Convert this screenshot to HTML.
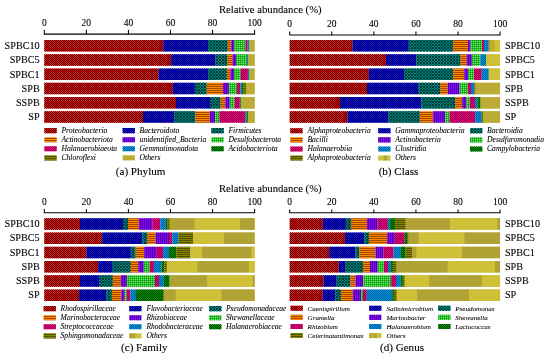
<!DOCTYPE html>
<html lang="en"><head><meta charset="utf-8"><title>Relative abundance</title>
<style>
html,body{margin:0;padding:0;background:#fff;}
body{width:550px;height:358px;overflow:hidden;font-family:"Liberation Serif","Times New Roman",serif;}
svg{display:block;}
svg text{stroke:#000;stroke-width:0.1px;}
svg text[font-style=italic]{stroke-width:0.07px;}
</style></head><body>
<svg width="550" height="358" viewBox="0 0 550 358" font-family="'Liberation Serif', 'Times New Roman', serif">
<rect width="550" height="358" fill="#fff"/>
<g id="panel-a">
<path d="M44.3,34.1 H254.6 M44.30,34.1 v-3.7 M86.36,34.1 v-3.7 M128.42,34.1 v-3.7 M170.48,34.1 v-3.7 M212.54,34.1 v-3.7 M254.60,34.1 v-3.7" stroke="#000" stroke-width="1.05" fill="none" stroke-linecap="square"/>
<text x="44.30" y="26.00" font-size="9.5" text-anchor="middle" fill="#000">0</text>
<text x="86.36" y="26.00" font-size="9.5" text-anchor="middle" fill="#000">20</text>
<text x="128.42" y="26.00" font-size="9.5" text-anchor="middle" fill="#000">40</text>
<text x="170.48" y="26.00" font-size="9.5" text-anchor="middle" fill="#000">60</text>
<text x="212.54" y="26.00" font-size="9.5" text-anchor="middle" fill="#000">80</text>
<text x="254.60" y="26.00" font-size="9.5" text-anchor="middle" fill="#000">100</text>
<text x="39.70" y="49.00" font-size="10.2" text-anchor="end" fill="#000">SPBC10</text>
<text x="39.70" y="63.25" font-size="10.2" text-anchor="end" fill="#000">SPBC5</text>
<text x="39.70" y="77.50" font-size="10.2" text-anchor="end" fill="#000">SPBC1</text>
<text x="39.70" y="91.75" font-size="10.2" text-anchor="end" fill="#000">SPB</text>
<text x="39.70" y="106.00" font-size="10.2" text-anchor="end" fill="#000">SSPB</text>
<text x="39.70" y="120.25" font-size="10.2" text-anchor="end" fill="#000">SP</text>
<text x="61.40" y="132.90" font-size="7.65" font-style="italic" fill="#000">Proteobacteria</text>
<text x="61.40" y="141.98" font-size="7.65" font-style="italic" fill="#000">Actinobacteriota</text>
<text x="61.40" y="151.06" font-size="7.65" font-style="italic" fill="#000">Halanaerobiaeota</text>
<text x="61.40" y="160.14" font-size="7.65" font-style="italic" fill="#000">Chloroflexi</text>
<text x="139.60" y="132.90" font-size="7.65" font-style="italic" fill="#000">Bacteroidota</text>
<text x="139.60" y="141.98" font-size="7.65" font-style="italic" fill="#000">unidentified_Bacteria</text>
<text x="139.60" y="151.06" font-size="7.65" font-style="italic" fill="#000">Gemmatimonadota</text>
<text x="139.60" y="160.14" font-size="7.65" font-style="italic" fill="#000">Others</text>
<text x="228.40" y="132.90" font-size="7.65" font-style="italic" fill="#000">Firmicutes</text>
<text x="228.40" y="141.98" font-size="7.65" font-style="italic" fill="#000">Desulfobacterota</text>
<text x="228.40" y="151.06" font-size="7.65" font-style="italic" fill="#000">Acidobacteriota</text>
<text x="140.6" y="175.0" font-size="11.1" text-anchor="middle" fill="#000">(a) Phylum</text>
</g>
<g id="panel-b">
<path d="M289.7,34.9 H500.1 M289.70,34.9 v-2.9 M331.78,34.9 v-2.9 M373.86,34.9 v-2.9 M415.94,34.9 v-2.9 M458.02,34.9 v-2.9 M500.10,34.9 v-2.9" stroke="#000" stroke-width="1.05" fill="none" stroke-linecap="square"/>
<text x="289.70" y="27.30" font-size="9.5" text-anchor="middle" fill="#000">0</text>
<text x="331.78" y="27.30" font-size="9.5" text-anchor="middle" fill="#000">20</text>
<text x="373.86" y="27.30" font-size="9.5" text-anchor="middle" fill="#000">40</text>
<text x="415.94" y="27.30" font-size="9.5" text-anchor="middle" fill="#000">60</text>
<text x="458.02" y="27.30" font-size="9.5" text-anchor="middle" fill="#000">80</text>
<text x="500.10" y="27.30" font-size="9.5" text-anchor="middle" fill="#000">100</text>
<text x="504.90" y="49.00" font-size="10.2" fill="#000">SPBC10</text>
<text x="504.90" y="63.25" font-size="10.2" fill="#000">SPBC5</text>
<text x="504.90" y="77.50" font-size="10.2" fill="#000">SPBC1</text>
<text x="504.90" y="91.75" font-size="10.2" fill="#000">SPB</text>
<text x="504.90" y="106.00" font-size="10.2" fill="#000">SSPB</text>
<text x="504.90" y="120.25" font-size="10.2" fill="#000">SP</text>
<text x="307.40" y="133.10" font-size="7.65" font-style="italic" fill="#000">Alphaproteobacteria</text>
<text x="307.40" y="142.18" font-size="7.65" font-style="italic" fill="#000">Bacilli</text>
<text x="307.40" y="151.26" font-size="7.65" font-style="italic" fill="#000">Halanaerobiia</text>
<text x="307.40" y="160.34" font-size="7.65" font-style="italic" fill="#000">Alphaproteobacteria</text>
<text x="395.30" y="133.10" font-size="7.65" font-style="italic" fill="#000">Gammaproteobacteria</text>
<text x="395.30" y="142.18" font-size="7.65" font-style="italic" fill="#000">Actinobacteria</text>
<text x="395.30" y="151.26" font-size="7.65" font-style="italic" fill="#000">Clostridia</text>
<text x="395.30" y="160.34" font-size="7.65" font-style="italic" fill="#000">Others</text>
<text x="487.00" y="133.10" font-size="7.65" font-style="italic" fill="#000">Bacteroidia</text>
<text x="487.00" y="142.18" font-size="7.65" font-style="italic" fill="#000">Desulfuromonadia</text>
<text x="487.00" y="151.26" font-size="7.65" font-style="italic" fill="#000">Campylobacteria</text>
<text x="398.5" y="174.6" font-size="11.1" text-anchor="middle" fill="#000">(b) Class</text>
</g>
<g id="panel-c">
<path d="M44.3,212.8 H254.6 M44.30,212.8 v-3.3 M86.36,212.8 v-3.3 M128.42,212.8 v-3.3 M170.48,212.8 v-3.3 M212.54,212.8 v-3.3 M254.60,212.8 v-3.3" stroke="#000" stroke-width="1.05" fill="none" stroke-linecap="square"/>
<text x="44.30" y="204.90" font-size="9.5" text-anchor="middle" fill="#000">0</text>
<text x="86.36" y="204.90" font-size="9.5" text-anchor="middle" fill="#000">20</text>
<text x="128.42" y="204.90" font-size="9.5" text-anchor="middle" fill="#000">40</text>
<text x="170.48" y="204.90" font-size="9.5" text-anchor="middle" fill="#000">60</text>
<text x="212.54" y="204.90" font-size="9.5" text-anchor="middle" fill="#000">80</text>
<text x="254.60" y="204.90" font-size="9.5" text-anchor="middle" fill="#000">100</text>
<text x="39.70" y="227.20" font-size="10.2" text-anchor="end" fill="#000">SPBC10</text>
<text x="39.70" y="241.45" font-size="10.2" text-anchor="end" fill="#000">SPBC5</text>
<text x="39.70" y="255.70" font-size="10.2" text-anchor="end" fill="#000">SPBC1</text>
<text x="39.70" y="269.95" font-size="10.2" text-anchor="end" fill="#000">SPB</text>
<text x="39.70" y="284.20" font-size="10.2" text-anchor="end" fill="#000">SSPB</text>
<text x="39.70" y="298.45" font-size="10.2" text-anchor="end" fill="#000">SP</text>
<text x="60.60" y="310.90" font-size="7.55" font-style="italic" fill="#000">Rhodospirillaceae</text>
<text x="60.60" y="319.98" font-size="7.55" font-style="italic" fill="#000">Marinobacteraceae</text>
<text x="60.60" y="329.06" font-size="7.55" font-style="italic" fill="#000">Streptococcaceae</text>
<text x="60.60" y="338.14" font-size="7.55" font-style="italic" fill="#000">Sphingomonadaceae</text>
<text x="146.40" y="310.90" font-size="7.55" font-style="italic" fill="#000">Flavobacteriaceae</text>
<text x="146.40" y="319.98" font-size="7.55" font-style="italic" fill="#000">Rhizobiaceae</text>
<text x="146.40" y="329.06" font-size="7.55" font-style="italic" fill="#000">Rhodobacteraceae</text>
<text x="146.40" y="338.14" font-size="7.55" font-style="italic" fill="#000">Others</text>
<text x="226.00" y="310.90" font-size="7.55" font-style="italic" fill="#000">Pseudomonadaceae</text>
<text x="226.00" y="319.98" font-size="7.55" font-style="italic" fill="#000">Shewanellaceae</text>
<text x="226.00" y="329.06" font-size="7.55" font-style="italic" fill="#000">Halanaerobiaceae</text>
<text x="144.3" y="351.2" font-size="11.1" text-anchor="middle" fill="#000">(c) Family</text>
</g>
<g id="panel-d">
<path d="M289.7,212.8 H500.1 M289.70,212.8 v-2.9 M331.78,212.8 v-2.9 M373.86,212.8 v-2.9 M415.94,212.8 v-2.9 M458.02,212.8 v-2.9 M500.10,212.8 v-2.9" stroke="#000" stroke-width="1.05" fill="none" stroke-linecap="square"/>
<text x="289.70" y="204.90" font-size="9.5" text-anchor="middle" fill="#000">0</text>
<text x="331.78" y="204.90" font-size="9.5" text-anchor="middle" fill="#000">20</text>
<text x="373.86" y="204.90" font-size="9.5" text-anchor="middle" fill="#000">40</text>
<text x="415.94" y="204.90" font-size="9.5" text-anchor="middle" fill="#000">60</text>
<text x="458.02" y="204.90" font-size="9.5" text-anchor="middle" fill="#000">80</text>
<text x="500.10" y="204.90" font-size="9.5" text-anchor="middle" fill="#000">100</text>
<text x="504.90" y="227.20" font-size="10.2" fill="#000">SPBC10</text>
<text x="504.90" y="241.45" font-size="10.2" fill="#000">SPBC5</text>
<text x="504.90" y="255.70" font-size="10.2" fill="#000">SPBC1</text>
<text x="504.90" y="269.95" font-size="10.2" fill="#000">SPB</text>
<text x="504.90" y="284.20" font-size="10.2" fill="#000">SSPB</text>
<text x="504.90" y="298.45" font-size="10.2" fill="#000">SP</text>
<text x="307.60" y="310.60" font-size="7.05" font-style="italic" fill="#000">Caenispirillum</text>
<text x="307.60" y="319.68" font-size="7.05" font-style="italic" fill="#000">Gramella</text>
<text x="307.60" y="328.76" font-size="7.05" font-style="italic" fill="#000">Rhizobium</text>
<text x="307.60" y="337.84" font-size="7.05" font-style="italic" fill="#000">Celerinatantimonas</text>
<text x="386.40" y="310.60" font-size="7.05" font-style="italic" fill="#000">Salinimicrobium</text>
<text x="386.40" y="319.68" font-size="7.05" font-style="italic" fill="#000">Marinobacter</text>
<text x="386.40" y="328.76" font-size="7.05" font-style="italic" fill="#000">Halanaerobium</text>
<text x="386.40" y="337.84" font-size="7.05" font-style="italic" fill="#000">Others</text>
<text x="455.30" y="310.60" font-size="7.05" font-style="italic" fill="#000">Pseudomonas</text>
<text x="455.30" y="319.68" font-size="7.05" font-style="italic" fill="#000">Shewanella</text>
<text x="455.30" y="328.76" font-size="7.05" font-style="italic" fill="#000">Lactococcus</text>
<text x="402" y="351.4" font-size="11.1" text-anchor="middle" fill="#000">(d) Genus</text>
</g>
<g fill="#bcae38"><rect x="249.10" y="40.05" width="5.50" height="11.45"/><rect x="248.10" y="54.30" width="6.50" height="11.45"/><rect x="249.30" y="68.55" width="5.30" height="11.45"/><rect x="246.00" y="82.80" width="8.60" height="11.45"/><rect x="241.00" y="97.05" width="13.60" height="11.45"/><rect x="247.90" y="111.30" width="6.70" height="11.45"/><rect x="489.60" y="40.05" width="10.50" height="11.45"/><rect x="486.10" y="54.30" width="14.00" height="11.45"/><rect x="488.80" y="68.55" width="11.30" height="11.45"/><rect x="475.60" y="82.80" width="24.50" height="11.45"/><rect x="480.50" y="97.05" width="19.60" height="11.45"/><rect x="483.20" y="111.30" width="16.90" height="11.45"/><rect x="169.80" y="218.25" width="84.80" height="11.45"/><rect x="193.20" y="232.50" width="61.40" height="11.45"/><rect x="190.20" y="246.75" width="64.40" height="11.45"/><rect x="166.90" y="261.00" width="87.70" height="11.45"/><rect x="169.50" y="275.25" width="85.10" height="11.45"/><rect x="164.20" y="289.50" width="90.40" height="11.45"/><rect x="405.80" y="218.25" width="94.30" height="11.45"/><rect x="408.60" y="232.50" width="91.50" height="11.45"/><rect x="412.00" y="246.75" width="88.10" height="11.45"/><rect x="396.60" y="261.00" width="103.50" height="11.45"/><rect x="404.80" y="275.25" width="95.30" height="11.45"/><rect x="396.80" y="289.50" width="103.30" height="11.45"/></g>
<clipPath id="c-red"><rect x="44.30" y="40.05" width="119.00" height="11.45"/><rect x="44.30" y="54.30" width="126.90" height="11.45"/><rect x="44.30" y="68.55" width="114.30" height="11.45"/><rect x="44.30" y="82.80" width="128.50" height="11.45"/><rect x="44.30" y="97.05" width="131.70" height="11.45"/><rect x="44.30" y="111.30" width="98.70" height="11.45"/><rect x="44.40" y="128.05" width="12.30" height="5.10"/><rect x="289.70" y="40.05" width="63.00" height="11.45"/><rect x="289.70" y="54.30" width="96.20" height="11.45"/><rect x="289.70" y="68.55" width="79.10" height="11.45"/><rect x="289.70" y="82.80" width="77.30" height="11.45"/><rect x="289.70" y="97.05" width="50.30" height="11.45"/><rect x="289.70" y="111.30" width="57.70" height="11.45"/><rect x="290.30" y="128.25" width="12.30" height="5.10"/><rect x="44.30" y="218.25" width="35.70" height="11.45"/><rect x="44.30" y="232.50" width="57.90" height="11.45"/><rect x="44.30" y="246.75" width="42.20" height="11.45"/><rect x="44.30" y="261.00" width="53.90" height="11.45"/><rect x="44.30" y="275.25" width="35.70" height="11.45"/><rect x="44.30" y="289.50" width="34.80" height="11.45"/><rect x="43.60" y="306.05" width="12.30" height="5.10"/><rect x="289.70" y="218.25" width="33.10" height="11.45"/><rect x="289.70" y="232.50" width="55.20" height="11.45"/><rect x="289.70" y="246.75" width="39.50" height="11.45"/><rect x="289.70" y="261.00" width="49.00" height="11.45"/><rect x="289.70" y="275.25" width="33.90" height="11.45"/><rect x="289.70" y="289.50" width="32.90" height="11.45"/><rect x="290.50" y="305.75" width="12.30" height="5.10"/></clipPath>
<g clip-path="url(#c-red)"><rect x="40" y="36" width="464" height="306" fill="#ff0a0a"/><g stroke="#100000" stroke-width="0.84" fill="none"><path d="M41.00,36L-265.00,342M43.00,36L-263.00,342M45.00,36L-261.00,342M47.00,36L-259.00,342M49.00,36L-257.00,342M51.00,36L-255.00,342M53.00,36L-253.00,342M55.00,36L-251.00,342M57.00,36L-249.00,342M59.00,36L-247.00,342M61.00,36L-245.00,342M63.00,36L-243.00,342M65.00,36L-241.00,342M67.00,36L-239.00,342M69.00,36L-237.00,342M71.00,36L-235.00,342M73.00,36L-233.00,342M75.00,36L-231.00,342M77.00,36L-229.00,342M79.00,36L-227.00,342M81.00,36L-225.00,342M83.00,36L-223.00,342M85.00,36L-221.00,342M87.00,36L-219.00,342M89.00,36L-217.00,342M91.00,36L-215.00,342M93.00,36L-213.00,342M95.00,36L-211.00,342M97.00,36L-209.00,342M99.00,36L-207.00,342M101.00,36L-205.00,342M103.00,36L-203.00,342M105.00,36L-201.00,342M107.00,36L-199.00,342M109.00,36L-197.00,342M111.00,36L-195.00,342M113.00,36L-193.00,342M115.00,36L-191.00,342M117.00,36L-189.00,342M119.00,36L-187.00,342M121.00,36L-185.00,342M123.00,36L-183.00,342M125.00,36L-181.00,342M127.00,36L-179.00,342M129.00,36L-177.00,342M131.00,36L-175.00,342M133.00,36L-173.00,342M135.00,36L-171.00,342M137.00,36L-169.00,342M139.00,36L-167.00,342M141.00,36L-165.00,342M143.00,36L-163.00,342M145.00,36L-161.00,342M147.00,36L-159.00,342M149.00,36L-157.00,342M151.00,36L-155.00,342M153.00,36L-153.00,342M155.00,36L-151.00,342M157.00,36L-149.00,342M159.00,36L-147.00,342M161.00,36L-145.00,342M163.00,36L-143.00,342M165.00,36L-141.00,342M167.00,36L-139.00,342M169.00,36L-137.00,342M171.00,36L-135.00,342M173.00,36L-133.00,342M175.00,36L-131.00,342M177.00,36L-129.00,342M179.00,36L-127.00,342M181.00,36L-125.00,342M183.00,36L-123.00,342M185.00,36L-121.00,342M187.00,36L-119.00,342M189.00,36L-117.00,342M191.00,36L-115.00,342M193.00,36L-113.00,342M195.00,36L-111.00,342M197.00,36L-109.00,342M199.00,36L-107.00,342M201.00,36L-105.00,342M203.00,36L-103.00,342M205.00,36L-101.00,342M207.00,36L-99.00,342M209.00,36L-97.00,342M211.00,36L-95.00,342M213.00,36L-93.00,342M215.00,36L-91.00,342M217.00,36L-89.00,342M219.00,36L-87.00,342M221.00,36L-85.00,342M223.00,36L-83.00,342M225.00,36L-81.00,342M227.00,36L-79.00,342M229.00,36L-77.00,342M231.00,36L-75.00,342M233.00,36L-73.00,342M235.00,36L-71.00,342M237.00,36L-69.00,342M239.00,36L-67.00,342M241.00,36L-65.00,342M243.00,36L-63.00,342M245.00,36L-61.00,342M247.00,36L-59.00,342M249.00,36L-57.00,342M251.00,36L-55.00,342M253.00,36L-53.00,342M255.00,36L-51.00,342M257.00,36L-49.00,342M259.00,36L-47.00,342M261.00,36L-45.00,342M263.00,36L-43.00,342M265.00,36L-41.00,342M267.00,36L-39.00,342M269.00,36L-37.00,342M271.00,36L-35.00,342M273.00,36L-33.00,342M275.00,36L-31.00,342M277.00,36L-29.00,342M279.00,36L-27.00,342M281.00,36L-25.00,342M283.00,36L-23.00,342M285.00,36L-21.00,342M287.00,36L-19.00,342M289.00,36L-17.00,342M291.00,36L-15.00,342M293.00,36L-13.00,342M295.00,36L-11.00,342M297.00,36L-9.00,342M299.00,36L-7.00,342M301.00,36L-5.00,342M303.00,36L-3.00,342M305.00,36L-1.00,342M307.00,36L1.00,342M309.00,36L3.00,342M311.00,36L5.00,342M313.00,36L7.00,342M315.00,36L9.00,342M317.00,36L11.00,342M319.00,36L13.00,342M321.00,36L15.00,342M323.00,36L17.00,342M325.00,36L19.00,342M327.00,36L21.00,342M329.00,36L23.00,342M331.00,36L25.00,342M333.00,36L27.00,342M335.00,36L29.00,342M337.00,36L31.00,342M339.00,36L33.00,342M341.00,36L35.00,342M343.00,36L37.00,342M345.00,36L39.00,342M347.00,36L41.00,342M349.00,36L43.00,342M351.00,36L45.00,342M353.00,36L47.00,342M355.00,36L49.00,342M357.00,36L51.00,342M359.00,36L53.00,342M361.00,36L55.00,342M363.00,36L57.00,342M365.00,36L59.00,342M367.00,36L61.00,342M369.00,36L63.00,342M371.00,36L65.00,342M373.00,36L67.00,342M375.00,36L69.00,342M377.00,36L71.00,342M379.00,36L73.00,342M381.00,36L75.00,342M383.00,36L77.00,342M385.00,36L79.00,342M387.00,36L81.00,342M389.00,36L83.00,342M391.00,36L85.00,342M393.00,36L87.00,342M395.00,36L89.00,342M397.00,36L91.00,342M399.00,36L93.00,342M401.00,36L95.00,342M403.00,36L97.00,342M405.00,36L99.00,342M407.00,36L101.00,342M409.00,36L103.00,342M411.00,36L105.00,342M413.00,36L107.00,342M415.00,36L109.00,342M417.00,36L111.00,342M419.00,36L113.00,342M421.00,36L115.00,342M423.00,36L117.00,342M425.00,36L119.00,342M427.00,36L121.00,342M429.00,36L123.00,342M431.00,36L125.00,342M433.00,36L127.00,342M435.00,36L129.00,342M437.00,36L131.00,342M439.00,36L133.00,342M441.00,36L135.00,342M443.00,36L137.00,342M445.00,36L139.00,342M447.00,36L141.00,342M449.00,36L143.00,342M451.00,36L145.00,342M453.00,36L147.00,342M455.00,36L149.00,342M457.00,36L151.00,342M459.00,36L153.00,342M461.00,36L155.00,342M463.00,36L157.00,342M465.00,36L159.00,342M467.00,36L161.00,342M469.00,36L163.00,342M471.00,36L165.00,342M473.00,36L167.00,342M475.00,36L169.00,342M477.00,36L171.00,342M479.00,36L173.00,342M481.00,36L175.00,342M483.00,36L177.00,342M485.00,36L179.00,342M487.00,36L181.00,342M489.00,36L183.00,342M491.00,36L185.00,342M493.00,36L187.00,342M495.00,36L189.00,342M497.00,36L191.00,342M499.00,36L193.00,342M501.00,36L195.00,342M503.00,36L197.00,342M505.00,36L199.00,342M507.00,36L201.00,342M509.00,36L203.00,342M511.00,36L205.00,342M513.00,36L207.00,342M515.00,36L209.00,342M517.00,36L211.00,342M519.00,36L213.00,342M521.00,36L215.00,342M523.00,36L217.00,342M525.00,36L219.00,342M527.00,36L221.00,342M529.00,36L223.00,342M531.00,36L225.00,342M533.00,36L227.00,342M535.00,36L229.00,342M537.00,36L231.00,342M539.00,36L233.00,342M541.00,36L235.00,342M543.00,36L237.00,342M545.00,36L239.00,342M547.00,36L241.00,342M549.00,36L243.00,342M551.00,36L245.00,342M553.00,36L247.00,342M555.00,36L249.00,342M557.00,36L251.00,342M559.00,36L253.00,342M561.00,36L255.00,342M563.00,36L257.00,342M565.00,36L259.00,342M567.00,36L261.00,342M569.00,36L263.00,342M571.00,36L265.00,342M573.00,36L267.00,342M575.00,36L269.00,342M577.00,36L271.00,342M579.00,36L273.00,342M581.00,36L275.00,342M583.00,36L277.00,342M585.00,36L279.00,342M587.00,36L281.00,342M589.00,36L283.00,342M591.00,36L285.00,342M593.00,36L287.00,342M595.00,36L289.00,342M597.00,36L291.00,342M599.00,36L293.00,342M601.00,36L295.00,342M603.00,36L297.00,342M605.00,36L299.00,342M607.00,36L301.00,342M609.00,36L303.00,342M611.00,36L305.00,342M613.00,36L307.00,342M615.00,36L309.00,342M617.00,36L311.00,342M619.00,36L313.00,342M621.00,36L315.00,342M623.00,36L317.00,342M625.00,36L319.00,342M627.00,36L321.00,342M629.00,36L323.00,342M631.00,36L325.00,342M633.00,36L327.00,342M635.00,36L329.00,342M637.00,36L331.00,342M639.00,36L333.00,342M641.00,36L335.00,342M643.00,36L337.00,342M645.00,36L339.00,342M647.00,36L341.00,342M649.00,36L343.00,342M651.00,36L345.00,342M653.00,36L347.00,342M655.00,36L349.00,342M657.00,36L351.00,342M659.00,36L353.00,342M661.00,36L355.00,342M663.00,36L357.00,342M665.00,36L359.00,342M667.00,36L361.00,342M669.00,36L363.00,342M671.00,36L365.00,342M673.00,36L367.00,342M675.00,36L369.00,342M677.00,36L371.00,342M679.00,36L373.00,342M681.00,36L375.00,342M683.00,36L377.00,342M685.00,36L379.00,342M687.00,36L381.00,342M689.00,36L383.00,342M691.00,36L385.00,342M693.00,36L387.00,342M695.00,36L389.00,342M697.00,36L391.00,342M699.00,36L393.00,342M701.00,36L395.00,342M703.00,36L397.00,342M705.00,36L399.00,342M707.00,36L401.00,342M709.00,36L403.00,342M711.00,36L405.00,342M713.00,36L407.00,342M715.00,36L409.00,342M717.00,36L411.00,342M719.00,36L413.00,342M721.00,36L415.00,342M723.00,36L417.00,342M725.00,36L419.00,342M727.00,36L421.00,342M729.00,36L423.00,342M731.00,36L425.00,342M733.00,36L427.00,342M735.00,36L429.00,342M737.00,36L431.00,342M739.00,36L433.00,342M741.00,36L435.00,342M743.00,36L437.00,342M745.00,36L439.00,342M747.00,36L441.00,342M749.00,36L443.00,342M751.00,36L445.00,342M753.00,36L447.00,342M755.00,36L449.00,342M757.00,36L451.00,342M759.00,36L453.00,342M761.00,36L455.00,342M763.00,36L457.00,342M765.00,36L459.00,342M767.00,36L461.00,342M769.00,36L463.00,342M771.00,36L465.00,342M773.00,36L467.00,342M775.00,36L469.00,342M777.00,36L471.00,342M779.00,36L473.00,342M781.00,36L475.00,342M783.00,36L477.00,342M785.00,36L479.00,342M787.00,36L481.00,342M789.00,36L483.00,342M791.00,36L485.00,342M793.00,36L487.00,342M795.00,36L489.00,342M797.00,36L491.00,342M799.00,36L493.00,342M801.00,36L495.00,342M803.00,36L497.00,342M805.00,36L499.00,342M807.00,36L501.00,342M809.00,36L503.00,342"/></g></g>
<clipPath id="c-blue"><rect x="163.30" y="40.05" width="44.80" height="11.45"/><rect x="171.20" y="54.30" width="44.40" height="11.45"/><rect x="158.60" y="68.55" width="49.60" height="11.45"/><rect x="172.80" y="82.80" width="22.10" height="11.45"/><rect x="176.00" y="97.05" width="34.00" height="11.45"/><rect x="143.00" y="111.30" width="31.40" height="11.45"/><rect x="122.60" y="128.05" width="12.30" height="5.10"/><rect x="352.70" y="40.05" width="56.10" height="11.45"/><rect x="385.90" y="54.30" width="30.60" height="11.45"/><rect x="368.80" y="68.55" width="35.20" height="11.45"/><rect x="367.00" y="82.80" width="51.10" height="11.45"/><rect x="340.00" y="97.05" width="81.50" height="11.45"/><rect x="347.40" y="111.30" width="40.90" height="11.45"/><rect x="378.20" y="128.25" width="12.30" height="5.10"/><rect x="80.00" y="218.25" width="43.00" height="11.45"/><rect x="102.20" y="232.50" width="40.20" height="11.45"/><rect x="86.50" y="246.75" width="44.40" height="11.45"/><rect x="98.20" y="261.00" width="14.60" height="11.45"/><rect x="80.00" y="275.25" width="19.20" height="11.45"/><rect x="79.10" y="289.50" width="27.20" height="11.45"/><rect x="129.20" y="306.05" width="12.30" height="5.10"/><rect x="322.80" y="218.25" width="23.10" height="11.45"/><rect x="344.90" y="232.50" width="19.50" height="11.45"/><rect x="329.20" y="246.75" width="26.20" height="11.45"/><rect x="338.70" y="261.00" width="6.60" height="11.45"/><rect x="323.60" y="275.25" width="13.10" height="11.45"/><rect x="322.60" y="289.50" width="12.70" height="11.45"/><rect x="369.10" y="305.75" width="12.30" height="5.10"/></clipPath>
<g clip-path="url(#c-blue)"><rect x="40" y="36" width="464" height="306" fill="#0a0aff"/><g stroke="#000010" stroke-width="0.8" fill="none"><path d="M-266.00,36L40.00,342M-264.00,36L42.00,342M-262.00,36L44.00,342M-260.00,36L46.00,342M-258.00,36L48.00,342M-256.00,36L50.00,342M-254.00,36L52.00,342M-252.00,36L54.00,342M-250.00,36L56.00,342M-248.00,36L58.00,342M-246.00,36L60.00,342M-244.00,36L62.00,342M-242.00,36L64.00,342M-240.00,36L66.00,342M-238.00,36L68.00,342M-236.00,36L70.00,342M-234.00,36L72.00,342M-232.00,36L74.00,342M-230.00,36L76.00,342M-228.00,36L78.00,342M-226.00,36L80.00,342M-224.00,36L82.00,342M-222.00,36L84.00,342M-220.00,36L86.00,342M-218.00,36L88.00,342M-216.00,36L90.00,342M-214.00,36L92.00,342M-212.00,36L94.00,342M-210.00,36L96.00,342M-208.00,36L98.00,342M-206.00,36L100.00,342M-204.00,36L102.00,342M-202.00,36L104.00,342M-200.00,36L106.00,342M-198.00,36L108.00,342M-196.00,36L110.00,342M-194.00,36L112.00,342M-192.00,36L114.00,342M-190.00,36L116.00,342M-188.00,36L118.00,342M-186.00,36L120.00,342M-184.00,36L122.00,342M-182.00,36L124.00,342M-180.00,36L126.00,342M-178.00,36L128.00,342M-176.00,36L130.00,342M-174.00,36L132.00,342M-172.00,36L134.00,342M-170.00,36L136.00,342M-168.00,36L138.00,342M-166.00,36L140.00,342M-164.00,36L142.00,342M-162.00,36L144.00,342M-160.00,36L146.00,342M-158.00,36L148.00,342M-156.00,36L150.00,342M-154.00,36L152.00,342M-152.00,36L154.00,342M-150.00,36L156.00,342M-148.00,36L158.00,342M-146.00,36L160.00,342M-144.00,36L162.00,342M-142.00,36L164.00,342M-140.00,36L166.00,342M-138.00,36L168.00,342M-136.00,36L170.00,342M-134.00,36L172.00,342M-132.00,36L174.00,342M-130.00,36L176.00,342M-128.00,36L178.00,342M-126.00,36L180.00,342M-124.00,36L182.00,342M-122.00,36L184.00,342M-120.00,36L186.00,342M-118.00,36L188.00,342M-116.00,36L190.00,342M-114.00,36L192.00,342M-112.00,36L194.00,342M-110.00,36L196.00,342M-108.00,36L198.00,342M-106.00,36L200.00,342M-104.00,36L202.00,342M-102.00,36L204.00,342M-100.00,36L206.00,342M-98.00,36L208.00,342M-96.00,36L210.00,342M-94.00,36L212.00,342M-92.00,36L214.00,342M-90.00,36L216.00,342M-88.00,36L218.00,342M-86.00,36L220.00,342M-84.00,36L222.00,342M-82.00,36L224.00,342M-80.00,36L226.00,342M-78.00,36L228.00,342M-76.00,36L230.00,342M-74.00,36L232.00,342M-72.00,36L234.00,342M-70.00,36L236.00,342M-68.00,36L238.00,342M-66.00,36L240.00,342M-64.00,36L242.00,342M-62.00,36L244.00,342M-60.00,36L246.00,342M-58.00,36L248.00,342M-56.00,36L250.00,342M-54.00,36L252.00,342M-52.00,36L254.00,342M-50.00,36L256.00,342M-48.00,36L258.00,342M-46.00,36L260.00,342M-44.00,36L262.00,342M-42.00,36L264.00,342M-40.00,36L266.00,342M-38.00,36L268.00,342M-36.00,36L270.00,342M-34.00,36L272.00,342M-32.00,36L274.00,342M-30.00,36L276.00,342M-28.00,36L278.00,342M-26.00,36L280.00,342M-24.00,36L282.00,342M-22.00,36L284.00,342M-20.00,36L286.00,342M-18.00,36L288.00,342M-16.00,36L290.00,342M-14.00,36L292.00,342M-12.00,36L294.00,342M-10.00,36L296.00,342M-8.00,36L298.00,342M-6.00,36L300.00,342M-4.00,36L302.00,342M-2.00,36L304.00,342M0.00,36L306.00,342M2.00,36L308.00,342M4.00,36L310.00,342M6.00,36L312.00,342M8.00,36L314.00,342M10.00,36L316.00,342M12.00,36L318.00,342M14.00,36L320.00,342M16.00,36L322.00,342M18.00,36L324.00,342M20.00,36L326.00,342M22.00,36L328.00,342M24.00,36L330.00,342M26.00,36L332.00,342M28.00,36L334.00,342M30.00,36L336.00,342M32.00,36L338.00,342M34.00,36L340.00,342M36.00,36L342.00,342M38.00,36L344.00,342M40.00,36L346.00,342M42.00,36L348.00,342M44.00,36L350.00,342M46.00,36L352.00,342M48.00,36L354.00,342M50.00,36L356.00,342M52.00,36L358.00,342M54.00,36L360.00,342M56.00,36L362.00,342M58.00,36L364.00,342M60.00,36L366.00,342M62.00,36L368.00,342M64.00,36L370.00,342M66.00,36L372.00,342M68.00,36L374.00,342M70.00,36L376.00,342M72.00,36L378.00,342M74.00,36L380.00,342M76.00,36L382.00,342M78.00,36L384.00,342M80.00,36L386.00,342M82.00,36L388.00,342M84.00,36L390.00,342M86.00,36L392.00,342M88.00,36L394.00,342M90.00,36L396.00,342M92.00,36L398.00,342M94.00,36L400.00,342M96.00,36L402.00,342M98.00,36L404.00,342M100.00,36L406.00,342M102.00,36L408.00,342M104.00,36L410.00,342M106.00,36L412.00,342M108.00,36L414.00,342M110.00,36L416.00,342M112.00,36L418.00,342M114.00,36L420.00,342M116.00,36L422.00,342M118.00,36L424.00,342M120.00,36L426.00,342M122.00,36L428.00,342M124.00,36L430.00,342M126.00,36L432.00,342M128.00,36L434.00,342M130.00,36L436.00,342M132.00,36L438.00,342M134.00,36L440.00,342M136.00,36L442.00,342M138.00,36L444.00,342M140.00,36L446.00,342M142.00,36L448.00,342M144.00,36L450.00,342M146.00,36L452.00,342M148.00,36L454.00,342M150.00,36L456.00,342M152.00,36L458.00,342M154.00,36L460.00,342M156.00,36L462.00,342M158.00,36L464.00,342M160.00,36L466.00,342M162.00,36L468.00,342M164.00,36L470.00,342M166.00,36L472.00,342M168.00,36L474.00,342M170.00,36L476.00,342M172.00,36L478.00,342M174.00,36L480.00,342M176.00,36L482.00,342M178.00,36L484.00,342M180.00,36L486.00,342M182.00,36L488.00,342M184.00,36L490.00,342M186.00,36L492.00,342M188.00,36L494.00,342M190.00,36L496.00,342M192.00,36L498.00,342M194.00,36L500.00,342M196.00,36L502.00,342M198.00,36L504.00,342M200.00,36L506.00,342M202.00,36L508.00,342M204.00,36L510.00,342M206.00,36L512.00,342M208.00,36L514.00,342M210.00,36L516.00,342M212.00,36L518.00,342M214.00,36L520.00,342M216.00,36L522.00,342M218.00,36L524.00,342M220.00,36L526.00,342M222.00,36L528.00,342M224.00,36L530.00,342M226.00,36L532.00,342M228.00,36L534.00,342M230.00,36L536.00,342M232.00,36L538.00,342M234.00,36L540.00,342M236.00,36L542.00,342M238.00,36L544.00,342M240.00,36L546.00,342M242.00,36L548.00,342M244.00,36L550.00,342M246.00,36L552.00,342M248.00,36L554.00,342M250.00,36L556.00,342M252.00,36L558.00,342M254.00,36L560.00,342M256.00,36L562.00,342M258.00,36L564.00,342M260.00,36L566.00,342M262.00,36L568.00,342M264.00,36L570.00,342M266.00,36L572.00,342M268.00,36L574.00,342M270.00,36L576.00,342M272.00,36L578.00,342M274.00,36L580.00,342M276.00,36L582.00,342M278.00,36L584.00,342M280.00,36L586.00,342M282.00,36L588.00,342M284.00,36L590.00,342M286.00,36L592.00,342M288.00,36L594.00,342M290.00,36L596.00,342M292.00,36L598.00,342M294.00,36L600.00,342M296.00,36L602.00,342M298.00,36L604.00,342M300.00,36L606.00,342M302.00,36L608.00,342M304.00,36L610.00,342M306.00,36L612.00,342M308.00,36L614.00,342M310.00,36L616.00,342M312.00,36L618.00,342M314.00,36L620.00,342M316.00,36L622.00,342M318.00,36L624.00,342M320.00,36L626.00,342M322.00,36L628.00,342M324.00,36L630.00,342M326.00,36L632.00,342M328.00,36L634.00,342M330.00,36L636.00,342M332.00,36L638.00,342M334.00,36L640.00,342M336.00,36L642.00,342M338.00,36L644.00,342M340.00,36L646.00,342M342.00,36L648.00,342M344.00,36L650.00,342M346.00,36L652.00,342M348.00,36L654.00,342M350.00,36L656.00,342M352.00,36L658.00,342M354.00,36L660.00,342M356.00,36L662.00,342M358.00,36L664.00,342M360.00,36L666.00,342M362.00,36L668.00,342M364.00,36L670.00,342M366.00,36L672.00,342M368.00,36L674.00,342M370.00,36L676.00,342M372.00,36L678.00,342M374.00,36L680.00,342M376.00,36L682.00,342M378.00,36L684.00,342M380.00,36L686.00,342M382.00,36L688.00,342M384.00,36L690.00,342M386.00,36L692.00,342M388.00,36L694.00,342M390.00,36L696.00,342M392.00,36L698.00,342M394.00,36L700.00,342M396.00,36L702.00,342M398.00,36L704.00,342M400.00,36L706.00,342M402.00,36L708.00,342M404.00,36L710.00,342M406.00,36L712.00,342M408.00,36L714.00,342M410.00,36L716.00,342M412.00,36L718.00,342M414.00,36L720.00,342M416.00,36L722.00,342M418.00,36L724.00,342M420.00,36L726.00,342M422.00,36L728.00,342M424.00,36L730.00,342M426.00,36L732.00,342M428.00,36L734.00,342M430.00,36L736.00,342M432.00,36L738.00,342M434.00,36L740.00,342M436.00,36L742.00,342M438.00,36L744.00,342M440.00,36L746.00,342M442.00,36L748.00,342M444.00,36L750.00,342M446.00,36L752.00,342M448.00,36L754.00,342M450.00,36L756.00,342M452.00,36L758.00,342M454.00,36L760.00,342M456.00,36L762.00,342M458.00,36L764.00,342M460.00,36L766.00,342M462.00,36L768.00,342M464.00,36L770.00,342M466.00,36L772.00,342M468.00,36L774.00,342M470.00,36L776.00,342M472.00,36L778.00,342M474.00,36L780.00,342M476.00,36L782.00,342M478.00,36L784.00,342M480.00,36L786.00,342M482.00,36L788.00,342M484.00,36L790.00,342M486.00,36L792.00,342M488.00,36L794.00,342M490.00,36L796.00,342M492.00,36L798.00,342M494.00,36L800.00,342M496.00,36L802.00,342M498.00,36L804.00,342M500.00,36L806.00,342M502.00,36L808.00,342"/></g></g>
<clipPath id="c-teal"><rect x="208.10" y="40.05" width="19.60" height="11.45"/><rect x="215.60" y="54.30" width="11.50" height="11.45"/><rect x="208.20" y="68.55" width="18.60" height="11.45"/><rect x="194.90" y="82.80" width="11.80" height="11.45"/><rect x="210.00" y="97.05" width="10.50" height="11.45"/><rect x="174.40" y="111.30" width="21.00" height="11.45"/><rect x="211.40" y="128.05" width="12.30" height="5.10"/><rect x="408.80" y="40.05" width="44.30" height="11.45"/><rect x="416.50" y="54.30" width="44.00" height="11.45"/><rect x="404.00" y="68.55" width="49.10" height="11.45"/><rect x="418.10" y="82.80" width="22.00" height="11.45"/><rect x="421.50" y="97.05" width="33.70" height="11.45"/><rect x="388.30" y="111.30" width="31.50" height="11.45"/><rect x="470.00" y="128.25" width="12.30" height="5.10"/><rect x="123.00" y="218.25" width="5.00" height="11.45"/><rect x="142.40" y="232.50" width="4.60" height="11.45"/><rect x="130.90" y="246.75" width="4.70" height="11.45"/><rect x="112.80" y="261.00" width="17.90" height="11.45"/><rect x="99.20" y="275.25" width="13.60" height="11.45"/><rect x="106.30" y="289.50" width="5.60" height="11.45"/><rect x="209.10" y="306.05" width="12.30" height="5.10"/><rect x="345.90" y="218.25" width="5.10" height="11.45"/><rect x="364.40" y="232.50" width="4.60" height="11.45"/><rect x="355.40" y="246.75" width="4.00" height="11.45"/><rect x="345.30" y="261.00" width="17.70" height="11.45"/><rect x="336.70" y="275.25" width="13.60" height="11.45"/><rect x="335.30" y="289.50" width="5.60" height="11.45"/><rect x="438.20" y="305.75" width="12.30" height="5.10"/></clipPath>
<g clip-path="url(#c-teal)"><rect x="40" y="36" width="464" height="306" fill="#00ccb8"/><g stroke="#003636" stroke-width="1.02" fill="none"><path d="M40.00,36L-266.00,342M43.00,36L-263.00,342M46.00,36L-260.00,342M49.00,36L-257.00,342M52.00,36L-254.00,342M55.00,36L-251.00,342M58.00,36L-248.00,342M61.00,36L-245.00,342M64.00,36L-242.00,342M67.00,36L-239.00,342M70.00,36L-236.00,342M73.00,36L-233.00,342M76.00,36L-230.00,342M79.00,36L-227.00,342M82.00,36L-224.00,342M85.00,36L-221.00,342M88.00,36L-218.00,342M91.00,36L-215.00,342M94.00,36L-212.00,342M97.00,36L-209.00,342M100.00,36L-206.00,342M103.00,36L-203.00,342M106.00,36L-200.00,342M109.00,36L-197.00,342M112.00,36L-194.00,342M115.00,36L-191.00,342M118.00,36L-188.00,342M121.00,36L-185.00,342M124.00,36L-182.00,342M127.00,36L-179.00,342M130.00,36L-176.00,342M133.00,36L-173.00,342M136.00,36L-170.00,342M139.00,36L-167.00,342M142.00,36L-164.00,342M145.00,36L-161.00,342M148.00,36L-158.00,342M151.00,36L-155.00,342M154.00,36L-152.00,342M157.00,36L-149.00,342M160.00,36L-146.00,342M163.00,36L-143.00,342M166.00,36L-140.00,342M169.00,36L-137.00,342M172.00,36L-134.00,342M175.00,36L-131.00,342M178.00,36L-128.00,342M181.00,36L-125.00,342M184.00,36L-122.00,342M187.00,36L-119.00,342M190.00,36L-116.00,342M193.00,36L-113.00,342M196.00,36L-110.00,342M199.00,36L-107.00,342M202.00,36L-104.00,342M205.00,36L-101.00,342M208.00,36L-98.00,342M211.00,36L-95.00,342M214.00,36L-92.00,342M217.00,36L-89.00,342M220.00,36L-86.00,342M223.00,36L-83.00,342M226.00,36L-80.00,342M229.00,36L-77.00,342M232.00,36L-74.00,342M235.00,36L-71.00,342M238.00,36L-68.00,342M241.00,36L-65.00,342M244.00,36L-62.00,342M247.00,36L-59.00,342M250.00,36L-56.00,342M253.00,36L-53.00,342M256.00,36L-50.00,342M259.00,36L-47.00,342M262.00,36L-44.00,342M265.00,36L-41.00,342M268.00,36L-38.00,342M271.00,36L-35.00,342M274.00,36L-32.00,342M277.00,36L-29.00,342M280.00,36L-26.00,342M283.00,36L-23.00,342M286.00,36L-20.00,342M289.00,36L-17.00,342M292.00,36L-14.00,342M295.00,36L-11.00,342M298.00,36L-8.00,342M301.00,36L-5.00,342M304.00,36L-2.00,342M307.00,36L1.00,342M310.00,36L4.00,342M313.00,36L7.00,342M316.00,36L10.00,342M319.00,36L13.00,342M322.00,36L16.00,342M325.00,36L19.00,342M328.00,36L22.00,342M331.00,36L25.00,342M334.00,36L28.00,342M337.00,36L31.00,342M340.00,36L34.00,342M343.00,36L37.00,342M346.00,36L40.00,342M349.00,36L43.00,342M352.00,36L46.00,342M355.00,36L49.00,342M358.00,36L52.00,342M361.00,36L55.00,342M364.00,36L58.00,342M367.00,36L61.00,342M370.00,36L64.00,342M373.00,36L67.00,342M376.00,36L70.00,342M379.00,36L73.00,342M382.00,36L76.00,342M385.00,36L79.00,342M388.00,36L82.00,342M391.00,36L85.00,342M394.00,36L88.00,342M397.00,36L91.00,342M400.00,36L94.00,342M403.00,36L97.00,342M406.00,36L100.00,342M409.00,36L103.00,342M412.00,36L106.00,342M415.00,36L109.00,342M418.00,36L112.00,342M421.00,36L115.00,342M424.00,36L118.00,342M427.00,36L121.00,342M430.00,36L124.00,342M433.00,36L127.00,342M436.00,36L130.00,342M439.00,36L133.00,342M442.00,36L136.00,342M445.00,36L139.00,342M448.00,36L142.00,342M451.00,36L145.00,342M454.00,36L148.00,342M457.00,36L151.00,342M460.00,36L154.00,342M463.00,36L157.00,342M466.00,36L160.00,342M469.00,36L163.00,342M472.00,36L166.00,342M475.00,36L169.00,342M478.00,36L172.00,342M481.00,36L175.00,342M484.00,36L178.00,342M487.00,36L181.00,342M490.00,36L184.00,342M493.00,36L187.00,342M496.00,36L190.00,342M499.00,36L193.00,342M502.00,36L196.00,342M505.00,36L199.00,342M508.00,36L202.00,342M511.00,36L205.00,342M514.00,36L208.00,342M517.00,36L211.00,342M520.00,36L214.00,342M523.00,36L217.00,342M526.00,36L220.00,342M529.00,36L223.00,342M532.00,36L226.00,342M535.00,36L229.00,342M538.00,36L232.00,342M541.00,36L235.00,342M544.00,36L238.00,342M547.00,36L241.00,342M550.00,36L244.00,342M553.00,36L247.00,342M556.00,36L250.00,342M559.00,36L253.00,342M562.00,36L256.00,342M565.00,36L259.00,342M568.00,36L262.00,342M571.00,36L265.00,342M574.00,36L268.00,342M577.00,36L271.00,342M580.00,36L274.00,342M583.00,36L277.00,342M586.00,36L280.00,342M589.00,36L283.00,342M592.00,36L286.00,342M595.00,36L289.00,342M598.00,36L292.00,342M601.00,36L295.00,342M604.00,36L298.00,342M607.00,36L301.00,342M610.00,36L304.00,342M613.00,36L307.00,342M616.00,36L310.00,342M619.00,36L313.00,342M622.00,36L316.00,342M625.00,36L319.00,342M628.00,36L322.00,342M631.00,36L325.00,342M634.00,36L328.00,342M637.00,36L331.00,342M640.00,36L334.00,342M643.00,36L337.00,342M646.00,36L340.00,342M649.00,36L343.00,342M652.00,36L346.00,342M655.00,36L349.00,342M658.00,36L352.00,342M661.00,36L355.00,342M664.00,36L358.00,342M667.00,36L361.00,342M670.00,36L364.00,342M673.00,36L367.00,342M676.00,36L370.00,342M679.00,36L373.00,342M682.00,36L376.00,342M685.00,36L379.00,342M688.00,36L382.00,342M691.00,36L385.00,342M694.00,36L388.00,342M697.00,36L391.00,342M700.00,36L394.00,342M703.00,36L397.00,342M706.00,36L400.00,342M709.00,36L403.00,342M712.00,36L406.00,342M715.00,36L409.00,342M718.00,36L412.00,342M721.00,36L415.00,342M724.00,36L418.00,342M727.00,36L421.00,342M730.00,36L424.00,342M733.00,36L427.00,342M736.00,36L430.00,342M739.00,36L433.00,342M742.00,36L436.00,342M745.00,36L439.00,342M748.00,36L442.00,342M751.00,36L445.00,342M754.00,36L448.00,342M757.00,36L451.00,342M760.00,36L454.00,342M763.00,36L457.00,342M766.00,36L460.00,342M769.00,36L463.00,342M772.00,36L466.00,342M775.00,36L469.00,342M778.00,36L472.00,342M781.00,36L475.00,342M784.00,36L478.00,342M787.00,36L481.00,342M790.00,36L484.00,342M793.00,36L487.00,342M796.00,36L490.00,342M799.00,36L493.00,342M802.00,36L496.00,342M805.00,36L499.00,342M808.00,36L502.00,342"/><path d="M-266.00,36L40.00,342M-263.00,36L43.00,342M-260.00,36L46.00,342M-257.00,36L49.00,342M-254.00,36L52.00,342M-251.00,36L55.00,342M-248.00,36L58.00,342M-245.00,36L61.00,342M-242.00,36L64.00,342M-239.00,36L67.00,342M-236.00,36L70.00,342M-233.00,36L73.00,342M-230.00,36L76.00,342M-227.00,36L79.00,342M-224.00,36L82.00,342M-221.00,36L85.00,342M-218.00,36L88.00,342M-215.00,36L91.00,342M-212.00,36L94.00,342M-209.00,36L97.00,342M-206.00,36L100.00,342M-203.00,36L103.00,342M-200.00,36L106.00,342M-197.00,36L109.00,342M-194.00,36L112.00,342M-191.00,36L115.00,342M-188.00,36L118.00,342M-185.00,36L121.00,342M-182.00,36L124.00,342M-179.00,36L127.00,342M-176.00,36L130.00,342M-173.00,36L133.00,342M-170.00,36L136.00,342M-167.00,36L139.00,342M-164.00,36L142.00,342M-161.00,36L145.00,342M-158.00,36L148.00,342M-155.00,36L151.00,342M-152.00,36L154.00,342M-149.00,36L157.00,342M-146.00,36L160.00,342M-143.00,36L163.00,342M-140.00,36L166.00,342M-137.00,36L169.00,342M-134.00,36L172.00,342M-131.00,36L175.00,342M-128.00,36L178.00,342M-125.00,36L181.00,342M-122.00,36L184.00,342M-119.00,36L187.00,342M-116.00,36L190.00,342M-113.00,36L193.00,342M-110.00,36L196.00,342M-107.00,36L199.00,342M-104.00,36L202.00,342M-101.00,36L205.00,342M-98.00,36L208.00,342M-95.00,36L211.00,342M-92.00,36L214.00,342M-89.00,36L217.00,342M-86.00,36L220.00,342M-83.00,36L223.00,342M-80.00,36L226.00,342M-77.00,36L229.00,342M-74.00,36L232.00,342M-71.00,36L235.00,342M-68.00,36L238.00,342M-65.00,36L241.00,342M-62.00,36L244.00,342M-59.00,36L247.00,342M-56.00,36L250.00,342M-53.00,36L253.00,342M-50.00,36L256.00,342M-47.00,36L259.00,342M-44.00,36L262.00,342M-41.00,36L265.00,342M-38.00,36L268.00,342M-35.00,36L271.00,342M-32.00,36L274.00,342M-29.00,36L277.00,342M-26.00,36L280.00,342M-23.00,36L283.00,342M-20.00,36L286.00,342M-17.00,36L289.00,342M-14.00,36L292.00,342M-11.00,36L295.00,342M-8.00,36L298.00,342M-5.00,36L301.00,342M-2.00,36L304.00,342M1.00,36L307.00,342M4.00,36L310.00,342M7.00,36L313.00,342M10.00,36L316.00,342M13.00,36L319.00,342M16.00,36L322.00,342M19.00,36L325.00,342M22.00,36L328.00,342M25.00,36L331.00,342M28.00,36L334.00,342M31.00,36L337.00,342M34.00,36L340.00,342M37.00,36L343.00,342M40.00,36L346.00,342M43.00,36L349.00,342M46.00,36L352.00,342M49.00,36L355.00,342M52.00,36L358.00,342M55.00,36L361.00,342M58.00,36L364.00,342M61.00,36L367.00,342M64.00,36L370.00,342M67.00,36L373.00,342M70.00,36L376.00,342M73.00,36L379.00,342M76.00,36L382.00,342M79.00,36L385.00,342M82.00,36L388.00,342M85.00,36L391.00,342M88.00,36L394.00,342M91.00,36L397.00,342M94.00,36L400.00,342M97.00,36L403.00,342M100.00,36L406.00,342M103.00,36L409.00,342M106.00,36L412.00,342M109.00,36L415.00,342M112.00,36L418.00,342M115.00,36L421.00,342M118.00,36L424.00,342M121.00,36L427.00,342M124.00,36L430.00,342M127.00,36L433.00,342M130.00,36L436.00,342M133.00,36L439.00,342M136.00,36L442.00,342M139.00,36L445.00,342M142.00,36L448.00,342M145.00,36L451.00,342M148.00,36L454.00,342M151.00,36L457.00,342M154.00,36L460.00,342M157.00,36L463.00,342M160.00,36L466.00,342M163.00,36L469.00,342M166.00,36L472.00,342M169.00,36L475.00,342M172.00,36L478.00,342M175.00,36L481.00,342M178.00,36L484.00,342M181.00,36L487.00,342M184.00,36L490.00,342M187.00,36L493.00,342M190.00,36L496.00,342M193.00,36L499.00,342M196.00,36L502.00,342M199.00,36L505.00,342M202.00,36L508.00,342M205.00,36L511.00,342M208.00,36L514.00,342M211.00,36L517.00,342M214.00,36L520.00,342M217.00,36L523.00,342M220.00,36L526.00,342M223.00,36L529.00,342M226.00,36L532.00,342M229.00,36L535.00,342M232.00,36L538.00,342M235.00,36L541.00,342M238.00,36L544.00,342M241.00,36L547.00,342M244.00,36L550.00,342M247.00,36L553.00,342M250.00,36L556.00,342M253.00,36L559.00,342M256.00,36L562.00,342M259.00,36L565.00,342M262.00,36L568.00,342M265.00,36L571.00,342M268.00,36L574.00,342M271.00,36L577.00,342M274.00,36L580.00,342M277.00,36L583.00,342M280.00,36L586.00,342M283.00,36L589.00,342M286.00,36L592.00,342M289.00,36L595.00,342M292.00,36L598.00,342M295.00,36L601.00,342M298.00,36L604.00,342M301.00,36L607.00,342M304.00,36L610.00,342M307.00,36L613.00,342M310.00,36L616.00,342M313.00,36L619.00,342M316.00,36L622.00,342M319.00,36L625.00,342M322.00,36L628.00,342M325.00,36L631.00,342M328.00,36L634.00,342M331.00,36L637.00,342M334.00,36L640.00,342M337.00,36L643.00,342M340.00,36L646.00,342M343.00,36L649.00,342M346.00,36L652.00,342M349.00,36L655.00,342M352.00,36L658.00,342M355.00,36L661.00,342M358.00,36L664.00,342M361.00,36L667.00,342M364.00,36L670.00,342M367.00,36L673.00,342M370.00,36L676.00,342M373.00,36L679.00,342M376.00,36L682.00,342M379.00,36L685.00,342M382.00,36L688.00,342M385.00,36L691.00,342M388.00,36L694.00,342M391.00,36L697.00,342M394.00,36L700.00,342M397.00,36L703.00,342M400.00,36L706.00,342M403.00,36L709.00,342M406.00,36L712.00,342M409.00,36L715.00,342M412.00,36L718.00,342M415.00,36L721.00,342M418.00,36L724.00,342M421.00,36L727.00,342M424.00,36L730.00,342M427.00,36L733.00,342M430.00,36L736.00,342M433.00,36L739.00,342M436.00,36L742.00,342M439.00,36L745.00,342M442.00,36L748.00,342M445.00,36L751.00,342M448.00,36L754.00,342M451.00,36L757.00,342M454.00,36L760.00,342M457.00,36L763.00,342M460.00,36L766.00,342M463.00,36L769.00,342M466.00,36L772.00,342M469.00,36L775.00,342M472.00,36L778.00,342M475.00,36L781.00,342M478.00,36L784.00,342M481.00,36L787.00,342M484.00,36L790.00,342M487.00,36L793.00,342M490.00,36L796.00,342M493.00,36L799.00,342M496.00,36L802.00,342M499.00,36L805.00,342M502.00,36L808.00,342"/></g></g>
<clipPath id="c-orange"><rect x="227.70" y="40.05" width="3.50" height="11.45"/><rect x="227.10" y="54.30" width="5.60" height="11.45"/><rect x="226.80" y="68.55" width="3.80" height="11.45"/><rect x="206.70" y="82.80" width="16.30" height="11.45"/><rect x="220.50" y="97.05" width="4.70" height="11.45"/><rect x="195.40" y="111.30" width="14.40" height="11.45"/><rect x="44.40" y="137.13" width="12.30" height="5.10"/><rect x="453.10" y="40.05" width="15.00" height="11.45"/><rect x="460.50" y="54.30" width="6.40" height="11.45"/><rect x="453.10" y="68.55" width="11.30" height="11.45"/><rect x="440.10" y="82.80" width="7.60" height="11.45"/><rect x="455.20" y="97.05" width="7.10" height="11.45"/><rect x="419.80" y="111.30" width="13.30" height="11.45"/><rect x="290.30" y="137.33" width="12.30" height="5.10"/><rect x="128.00" y="218.25" width="11.00" height="11.45"/><rect x="147.00" y="232.50" width="8.50" height="11.45"/><rect x="135.60" y="246.75" width="8.70" height="11.45"/><rect x="130.70" y="261.00" width="7.70" height="11.45"/><rect x="112.80" y="275.25" width="8.10" height="11.45"/><rect x="111.90" y="289.50" width="9.40" height="11.45"/><rect x="43.60" y="315.13" width="12.30" height="5.10"/><rect x="351.00" y="218.25" width="16.00" height="11.45"/><rect x="369.00" y="232.50" width="18.10" height="11.45"/><rect x="359.40" y="246.75" width="16.00" height="11.45"/><rect x="363.00" y="261.00" width="7.00" height="11.45"/><rect x="350.30" y="275.25" width="5.10" height="11.45"/><rect x="340.90" y="289.50" width="12.10" height="11.45"/><rect x="290.50" y="314.83" width="12.30" height="5.10"/></clipPath>
<g clip-path="url(#c-orange)"><rect x="40" y="36" width="464" height="306" fill="#ff8400"/><g stroke="#401000" stroke-width="0.5" fill="none"><path d="M40,36.50H504M40,38.50H504M40,40.50H504M40,42.50H504M40,44.50H504M40,46.50H504M40,48.50H504M40,50.50H504M40,52.50H504M40,54.50H504M40,56.50H504M40,58.50H504M40,60.50H504M40,62.50H504M40,64.50H504M40,66.50H504M40,68.50H504M40,70.50H504M40,72.50H504M40,74.50H504M40,76.50H504M40,78.50H504M40,80.50H504M40,82.50H504M40,84.50H504M40,86.50H504M40,88.50H504M40,90.50H504M40,92.50H504M40,94.50H504M40,96.50H504M40,98.50H504M40,100.50H504M40,102.50H504M40,104.50H504M40,106.50H504M40,108.50H504M40,110.50H504M40,112.50H504M40,114.50H504M40,116.50H504M40,118.50H504M40,120.50H504M40,122.50H504M40,124.50H504M40,126.50H504M40,128.50H504M40,130.50H504M40,132.50H504M40,134.50H504M40,136.50H504M40,138.50H504M40,140.50H504M40,142.50H504M40,144.50H504M40,146.50H504M40,148.50H504M40,150.50H504M40,152.50H504M40,154.50H504M40,156.50H504M40,158.50H504M40,160.50H504M40,162.50H504M40,164.50H504M40,166.50H504M40,168.50H504M40,170.50H504M40,172.50H504M40,174.50H504M40,176.50H504M40,178.50H504M40,180.50H504M40,182.50H504M40,184.50H504M40,186.50H504M40,188.50H504M40,190.50H504M40,192.50H504M40,194.50H504M40,196.50H504M40,198.50H504M40,200.50H504M40,202.50H504M40,204.50H504M40,206.50H504M40,208.50H504M40,210.50H504M40,212.50H504M40,214.50H504M40,216.50H504M40,218.50H504M40,220.50H504M40,222.50H504M40,224.50H504M40,226.50H504M40,228.50H504M40,230.50H504M40,232.50H504M40,234.50H504M40,236.50H504M40,238.50H504M40,240.50H504M40,242.50H504M40,244.50H504M40,246.50H504M40,248.50H504M40,250.50H504M40,252.50H504M40,254.50H504M40,256.50H504M40,258.50H504M40,260.50H504M40,262.50H504M40,264.50H504M40,266.50H504M40,268.50H504M40,270.50H504M40,272.50H504M40,274.50H504M40,276.50H504M40,278.50H504M40,280.50H504M40,282.50H504M40,284.50H504M40,286.50H504M40,288.50H504M40,290.50H504M40,292.50H504M40,294.50H504M40,296.50H504M40,298.50H504M40,300.50H504M40,302.50H504M40,304.50H504M40,306.50H504M40,308.50H504M40,310.50H504M40,312.50H504M40,314.50H504M40,316.50H504M40,318.50H504M40,320.50H504M40,322.50H504M40,324.50H504M40,326.50H504M40,328.50H504M40,330.50H504M40,332.50H504M40,334.50H504M40,336.50H504M40,338.50H504M40,340.50H504"/></g></g>
<clipPath id="c-purple"><rect x="231.20" y="40.05" width="3.00" height="11.45"/><rect x="232.70" y="54.30" width="3.30" height="11.45"/><rect x="230.60" y="68.55" width="3.50" height="11.45"/><rect x="223.00" y="82.80" width="5.90" height="11.45"/><rect x="225.20" y="97.05" width="4.60" height="11.45"/><rect x="209.80" y="111.30" width="5.30" height="11.45"/><rect x="122.60" y="137.13" width="12.30" height="5.10"/><rect x="468.10" y="40.05" width="2.50" height="11.45"/><rect x="466.90" y="54.30" width="5.00" height="11.45"/><rect x="464.40" y="68.55" width="3.70" height="11.45"/><rect x="447.70" y="82.80" width="12.00" height="11.45"/><rect x="462.30" y="97.05" width="4.20" height="11.45"/><rect x="433.10" y="111.30" width="12.30" height="11.45"/><rect x="378.20" y="137.33" width="12.30" height="5.10"/><rect x="139.00" y="218.25" width="13.50" height="11.45"/><rect x="155.50" y="232.50" width="13.50" height="11.45"/><rect x="144.30" y="246.75" width="12.40" height="11.45"/><rect x="138.40" y="261.00" width="5.40" height="11.45"/><rect x="120.90" y="275.25" width="6.00" height="11.45"/><rect x="121.30" y="289.50" width="3.40" height="11.45"/><rect x="129.20" y="315.13" width="12.30" height="5.10"/><rect x="367.00" y="218.25" width="10.60" height="11.45"/><rect x="387.10" y="232.50" width="7.60" height="11.45"/><rect x="375.40" y="246.75" width="8.30" height="11.45"/><rect x="370.00" y="261.00" width="7.80" height="11.45"/><rect x="355.40" y="275.25" width="8.00" height="11.45"/><rect x="353.00" y="289.50" width="8.00" height="11.45"/><rect x="369.10" y="314.83" width="12.30" height="5.10"/></clipPath>
<g clip-path="url(#c-purple)"><rect x="40" y="36" width="464" height="306" fill="#8800ff"/><g stroke="#100040" stroke-width="0.5" fill="none"><path d="M40.50,36V342M42.50,36V342M44.50,36V342M46.50,36V342M48.50,36V342M50.50,36V342M52.50,36V342M54.50,36V342M56.50,36V342M58.50,36V342M60.50,36V342M62.50,36V342M64.50,36V342M66.50,36V342M68.50,36V342M70.50,36V342M72.50,36V342M74.50,36V342M76.50,36V342M78.50,36V342M80.50,36V342M82.50,36V342M84.50,36V342M86.50,36V342M88.50,36V342M90.50,36V342M92.50,36V342M94.50,36V342M96.50,36V342M98.50,36V342M100.50,36V342M102.50,36V342M104.50,36V342M106.50,36V342M108.50,36V342M110.50,36V342M112.50,36V342M114.50,36V342M116.50,36V342M118.50,36V342M120.50,36V342M122.50,36V342M124.50,36V342M126.50,36V342M128.50,36V342M130.50,36V342M132.50,36V342M134.50,36V342M136.50,36V342M138.50,36V342M140.50,36V342M142.50,36V342M144.50,36V342M146.50,36V342M148.50,36V342M150.50,36V342M152.50,36V342M154.50,36V342M156.50,36V342M158.50,36V342M160.50,36V342M162.50,36V342M164.50,36V342M166.50,36V342M168.50,36V342M170.50,36V342M172.50,36V342M174.50,36V342M176.50,36V342M178.50,36V342M180.50,36V342M182.50,36V342M184.50,36V342M186.50,36V342M188.50,36V342M190.50,36V342M192.50,36V342M194.50,36V342M196.50,36V342M198.50,36V342M200.50,36V342M202.50,36V342M204.50,36V342M206.50,36V342M208.50,36V342M210.50,36V342M212.50,36V342M214.50,36V342M216.50,36V342M218.50,36V342M220.50,36V342M222.50,36V342M224.50,36V342M226.50,36V342M228.50,36V342M230.50,36V342M232.50,36V342M234.50,36V342M236.50,36V342M238.50,36V342M240.50,36V342M242.50,36V342M244.50,36V342M246.50,36V342M248.50,36V342M250.50,36V342M252.50,36V342M254.50,36V342M256.50,36V342M258.50,36V342M260.50,36V342M262.50,36V342M264.50,36V342M266.50,36V342M268.50,36V342M270.50,36V342M272.50,36V342M274.50,36V342M276.50,36V342M278.50,36V342M280.50,36V342M282.50,36V342M284.50,36V342M286.50,36V342M288.50,36V342M290.50,36V342M292.50,36V342M294.50,36V342M296.50,36V342M298.50,36V342M300.50,36V342M302.50,36V342M304.50,36V342M306.50,36V342M308.50,36V342M310.50,36V342M312.50,36V342M314.50,36V342M316.50,36V342M318.50,36V342M320.50,36V342M322.50,36V342M324.50,36V342M326.50,36V342M328.50,36V342M330.50,36V342M332.50,36V342M334.50,36V342M336.50,36V342M338.50,36V342M340.50,36V342M342.50,36V342M344.50,36V342M346.50,36V342M348.50,36V342M350.50,36V342M352.50,36V342M354.50,36V342M356.50,36V342M358.50,36V342M360.50,36V342M362.50,36V342M364.50,36V342M366.50,36V342M368.50,36V342M370.50,36V342M372.50,36V342M374.50,36V342M376.50,36V342M378.50,36V342M380.50,36V342M382.50,36V342M384.50,36V342M386.50,36V342M388.50,36V342M390.50,36V342M392.50,36V342M394.50,36V342M396.50,36V342M398.50,36V342M400.50,36V342M402.50,36V342M404.50,36V342M406.50,36V342M408.50,36V342M410.50,36V342M412.50,36V342M414.50,36V342M416.50,36V342M418.50,36V342M420.50,36V342M422.50,36V342M424.50,36V342M426.50,36V342M428.50,36V342M430.50,36V342M432.50,36V342M434.50,36V342M436.50,36V342M438.50,36V342M440.50,36V342M442.50,36V342M444.50,36V342M446.50,36V342M448.50,36V342M450.50,36V342M452.50,36V342M454.50,36V342M456.50,36V342M458.50,36V342M460.50,36V342M462.50,36V342M464.50,36V342M466.50,36V342M468.50,36V342M470.50,36V342M472.50,36V342M474.50,36V342M476.50,36V342M478.50,36V342M480.50,36V342M482.50,36V342M484.50,36V342M486.50,36V342M488.50,36V342M490.50,36V342M492.50,36V342M494.50,36V342M496.50,36V342M498.50,36V342M500.50,36V342M502.50,36V342"/></g></g>
<clipPath id="c-lgreen"><rect x="234.20" y="40.05" width="11.30" height="11.45"/><rect x="236.00" y="54.30" width="11.10" height="11.45"/><rect x="234.10" y="68.55" width="6.60" height="11.45"/><rect x="228.90" y="82.80" width="8.10" height="11.45"/><rect x="229.80" y="97.05" width="4.70" height="11.45"/><rect x="215.10" y="111.30" width="4.30" height="11.45"/><rect x="211.40" y="137.13" width="12.30" height="5.10"/><rect x="470.60" y="40.05" width="11.40" height="11.45"/><rect x="471.90" y="54.30" width="8.60" height="11.45"/><rect x="468.10" y="68.55" width="5.90" height="11.45"/><rect x="459.70" y="82.80" width="8.20" height="11.45"/><rect x="466.50" y="97.05" width="3.30" height="11.45"/><rect x="445.40" y="111.30" width="4.20" height="11.45"/><rect x="470.00" y="137.33" width="12.30" height="5.10"/><rect x="143.80" y="261.00" width="6.00" height="11.45"/><rect x="126.90" y="275.25" width="28.10" height="11.45"/><rect x="124.70" y="289.50" width="2.10" height="11.45"/><rect x="209.10" y="315.13" width="12.30" height="5.10"/><rect x="377.80" y="261.00" width="6.20" height="11.45"/><rect x="363.40" y="275.25" width="27.80" height="11.45"/><rect x="361.00" y="289.50" width="2.00" height="11.45"/><rect x="438.20" y="314.83" width="12.30" height="5.10"/></clipPath>
<g clip-path="url(#c-lgreen)"><rect x="40" y="36" width="464" height="306" fill="#54ff54"/><g stroke="#004800" stroke-width="0.4" fill="none"><path d="M40,36.50H504M40,38.50H504M40,40.50H504M40,42.50H504M40,44.50H504M40,46.50H504M40,48.50H504M40,50.50H504M40,52.50H504M40,54.50H504M40,56.50H504M40,58.50H504M40,60.50H504M40,62.50H504M40,64.50H504M40,66.50H504M40,68.50H504M40,70.50H504M40,72.50H504M40,74.50H504M40,76.50H504M40,78.50H504M40,80.50H504M40,82.50H504M40,84.50H504M40,86.50H504M40,88.50H504M40,90.50H504M40,92.50H504M40,94.50H504M40,96.50H504M40,98.50H504M40,100.50H504M40,102.50H504M40,104.50H504M40,106.50H504M40,108.50H504M40,110.50H504M40,112.50H504M40,114.50H504M40,116.50H504M40,118.50H504M40,120.50H504M40,122.50H504M40,124.50H504M40,126.50H504M40,128.50H504M40,130.50H504M40,132.50H504M40,134.50H504M40,136.50H504M40,138.50H504M40,140.50H504M40,142.50H504M40,144.50H504M40,146.50H504M40,148.50H504M40,150.50H504M40,152.50H504M40,154.50H504M40,156.50H504M40,158.50H504M40,160.50H504M40,162.50H504M40,164.50H504M40,166.50H504M40,168.50H504M40,170.50H504M40,172.50H504M40,174.50H504M40,176.50H504M40,178.50H504M40,180.50H504M40,182.50H504M40,184.50H504M40,186.50H504M40,188.50H504M40,190.50H504M40,192.50H504M40,194.50H504M40,196.50H504M40,198.50H504M40,200.50H504M40,202.50H504M40,204.50H504M40,206.50H504M40,208.50H504M40,210.50H504M40,212.50H504M40,214.50H504M40,216.50H504M40,218.50H504M40,220.50H504M40,222.50H504M40,224.50H504M40,226.50H504M40,228.50H504M40,230.50H504M40,232.50H504M40,234.50H504M40,236.50H504M40,238.50H504M40,240.50H504M40,242.50H504M40,244.50H504M40,246.50H504M40,248.50H504M40,250.50H504M40,252.50H504M40,254.50H504M40,256.50H504M40,258.50H504M40,260.50H504M40,262.50H504M40,264.50H504M40,266.50H504M40,268.50H504M40,270.50H504M40,272.50H504M40,274.50H504M40,276.50H504M40,278.50H504M40,280.50H504M40,282.50H504M40,284.50H504M40,286.50H504M40,288.50H504M40,290.50H504M40,292.50H504M40,294.50H504M40,296.50H504M40,298.50H504M40,300.50H504M40,302.50H504M40,304.50H504M40,306.50H504M40,308.50H504M40,310.50H504M40,312.50H504M40,314.50H504M40,316.50H504M40,318.50H504M40,320.50H504M40,322.50H504M40,324.50H504M40,326.50H504M40,328.50H504M40,330.50H504M40,332.50H504M40,334.50H504M40,336.50H504M40,338.50H504M40,340.50H504"/><path d="M40.50,36V342M42.50,36V342M44.50,36V342M46.50,36V342M48.50,36V342M50.50,36V342M52.50,36V342M54.50,36V342M56.50,36V342M58.50,36V342M60.50,36V342M62.50,36V342M64.50,36V342M66.50,36V342M68.50,36V342M70.50,36V342M72.50,36V342M74.50,36V342M76.50,36V342M78.50,36V342M80.50,36V342M82.50,36V342M84.50,36V342M86.50,36V342M88.50,36V342M90.50,36V342M92.50,36V342M94.50,36V342M96.50,36V342M98.50,36V342M100.50,36V342M102.50,36V342M104.50,36V342M106.50,36V342M108.50,36V342M110.50,36V342M112.50,36V342M114.50,36V342M116.50,36V342M118.50,36V342M120.50,36V342M122.50,36V342M124.50,36V342M126.50,36V342M128.50,36V342M130.50,36V342M132.50,36V342M134.50,36V342M136.50,36V342M138.50,36V342M140.50,36V342M142.50,36V342M144.50,36V342M146.50,36V342M148.50,36V342M150.50,36V342M152.50,36V342M154.50,36V342M156.50,36V342M158.50,36V342M160.50,36V342M162.50,36V342M164.50,36V342M166.50,36V342M168.50,36V342M170.50,36V342M172.50,36V342M174.50,36V342M176.50,36V342M178.50,36V342M180.50,36V342M182.50,36V342M184.50,36V342M186.50,36V342M188.50,36V342M190.50,36V342M192.50,36V342M194.50,36V342M196.50,36V342M198.50,36V342M200.50,36V342M202.50,36V342M204.50,36V342M206.50,36V342M208.50,36V342M210.50,36V342M212.50,36V342M214.50,36V342M216.50,36V342M218.50,36V342M220.50,36V342M222.50,36V342M224.50,36V342M226.50,36V342M228.50,36V342M230.50,36V342M232.50,36V342M234.50,36V342M236.50,36V342M238.50,36V342M240.50,36V342M242.50,36V342M244.50,36V342M246.50,36V342M248.50,36V342M250.50,36V342M252.50,36V342M254.50,36V342M256.50,36V342M258.50,36V342M260.50,36V342M262.50,36V342M264.50,36V342M266.50,36V342M268.50,36V342M270.50,36V342M272.50,36V342M274.50,36V342M276.50,36V342M278.50,36V342M280.50,36V342M282.50,36V342M284.50,36V342M286.50,36V342M288.50,36V342M290.50,36V342M292.50,36V342M294.50,36V342M296.50,36V342M298.50,36V342M300.50,36V342M302.50,36V342M304.50,36V342M306.50,36V342M308.50,36V342M310.50,36V342M312.50,36V342M314.50,36V342M316.50,36V342M318.50,36V342M320.50,36V342M322.50,36V342M324.50,36V342M326.50,36V342M328.50,36V342M330.50,36V342M332.50,36V342M334.50,36V342M336.50,36V342M338.50,36V342M340.50,36V342M342.50,36V342M344.50,36V342M346.50,36V342M348.50,36V342M350.50,36V342M352.50,36V342M354.50,36V342M356.50,36V342M358.50,36V342M360.50,36V342M362.50,36V342M364.50,36V342M366.50,36V342M368.50,36V342M370.50,36V342M372.50,36V342M374.50,36V342M376.50,36V342M378.50,36V342M380.50,36V342M382.50,36V342M384.50,36V342M386.50,36V342M388.50,36V342M390.50,36V342M392.50,36V342M394.50,36V342M396.50,36V342M398.50,36V342M400.50,36V342M402.50,36V342M404.50,36V342M406.50,36V342M408.50,36V342M410.50,36V342M412.50,36V342M414.50,36V342M416.50,36V342M418.50,36V342M420.50,36V342M422.50,36V342M424.50,36V342M426.50,36V342M428.50,36V342M430.50,36V342M432.50,36V342M434.50,36V342M436.50,36V342M438.50,36V342M440.50,36V342M442.50,36V342M444.50,36V342M446.50,36V342M448.50,36V342M450.50,36V342M452.50,36V342M454.50,36V342M456.50,36V342M458.50,36V342M460.50,36V342M462.50,36V342M464.50,36V342M466.50,36V342M468.50,36V342M470.50,36V342M472.50,36V342M474.50,36V342M476.50,36V342M478.50,36V342M480.50,36V342M482.50,36V342M484.50,36V342M486.50,36V342M488.50,36V342M490.50,36V342M492.50,36V342M494.50,36V342M496.50,36V342M498.50,36V342M500.50,36V342M502.50,36V342"/></g></g>
<clipPath id="c-magenta"><rect x="245.50" y="40.05" width="2.10" height="11.45"/><rect x="240.70" y="68.55" width="7.20" height="11.45"/><rect x="237.00" y="82.80" width="3.40" height="11.45"/><rect x="234.50" y="97.05" width="5.30" height="11.45"/><rect x="219.40" y="111.30" width="25.90" height="11.45"/><rect x="44.40" y="146.21" width="12.30" height="5.10"/><rect x="482.00" y="40.05" width="2.00" height="11.45"/><rect x="474.00" y="68.55" width="7.70" height="11.45"/><rect x="467.90" y="82.80" width="3.10" height="11.45"/><rect x="469.80" y="97.05" width="5.20" height="11.45"/><rect x="449.60" y="111.30" width="25.60" height="11.45"/><rect x="290.30" y="146.41" width="12.30" height="5.10"/><rect x="152.50" y="218.25" width="7.80" height="11.45"/><rect x="169.00" y="232.50" width="3.30" height="11.45"/><rect x="156.70" y="246.75" width="6.40" height="11.45"/><rect x="149.80" y="261.00" width="4.10" height="11.45"/><rect x="155.00" y="275.25" width="4.00" height="11.45"/><rect x="126.80" y="289.50" width="3.60" height="11.45"/><rect x="43.60" y="324.21" width="12.30" height="5.10"/><rect x="377.60" y="218.25" width="10.30" height="11.45"/><rect x="394.70" y="232.50" width="9.90" height="11.45"/><rect x="383.70" y="246.75" width="9.80" height="11.45"/><rect x="384.00" y="261.00" width="4.00" height="11.45"/><rect x="391.20" y="275.25" width="4.80" height="11.45"/><rect x="363.00" y="289.50" width="3.80" height="11.45"/><rect x="290.50" y="323.91" width="12.30" height="5.10"/></clipPath>
<g clip-path="url(#c-magenta)"><rect x="40" y="36" width="464" height="306" fill="#f0007f"/><g stroke="#300018" stroke-width="0.3" fill="none"><path d="M41.00,36L-265.00,342M43.00,36L-263.00,342M45.00,36L-261.00,342M47.00,36L-259.00,342M49.00,36L-257.00,342M51.00,36L-255.00,342M53.00,36L-253.00,342M55.00,36L-251.00,342M57.00,36L-249.00,342M59.00,36L-247.00,342M61.00,36L-245.00,342M63.00,36L-243.00,342M65.00,36L-241.00,342M67.00,36L-239.00,342M69.00,36L-237.00,342M71.00,36L-235.00,342M73.00,36L-233.00,342M75.00,36L-231.00,342M77.00,36L-229.00,342M79.00,36L-227.00,342M81.00,36L-225.00,342M83.00,36L-223.00,342M85.00,36L-221.00,342M87.00,36L-219.00,342M89.00,36L-217.00,342M91.00,36L-215.00,342M93.00,36L-213.00,342M95.00,36L-211.00,342M97.00,36L-209.00,342M99.00,36L-207.00,342M101.00,36L-205.00,342M103.00,36L-203.00,342M105.00,36L-201.00,342M107.00,36L-199.00,342M109.00,36L-197.00,342M111.00,36L-195.00,342M113.00,36L-193.00,342M115.00,36L-191.00,342M117.00,36L-189.00,342M119.00,36L-187.00,342M121.00,36L-185.00,342M123.00,36L-183.00,342M125.00,36L-181.00,342M127.00,36L-179.00,342M129.00,36L-177.00,342M131.00,36L-175.00,342M133.00,36L-173.00,342M135.00,36L-171.00,342M137.00,36L-169.00,342M139.00,36L-167.00,342M141.00,36L-165.00,342M143.00,36L-163.00,342M145.00,36L-161.00,342M147.00,36L-159.00,342M149.00,36L-157.00,342M151.00,36L-155.00,342M153.00,36L-153.00,342M155.00,36L-151.00,342M157.00,36L-149.00,342M159.00,36L-147.00,342M161.00,36L-145.00,342M163.00,36L-143.00,342M165.00,36L-141.00,342M167.00,36L-139.00,342M169.00,36L-137.00,342M171.00,36L-135.00,342M173.00,36L-133.00,342M175.00,36L-131.00,342M177.00,36L-129.00,342M179.00,36L-127.00,342M181.00,36L-125.00,342M183.00,36L-123.00,342M185.00,36L-121.00,342M187.00,36L-119.00,342M189.00,36L-117.00,342M191.00,36L-115.00,342M193.00,36L-113.00,342M195.00,36L-111.00,342M197.00,36L-109.00,342M199.00,36L-107.00,342M201.00,36L-105.00,342M203.00,36L-103.00,342M205.00,36L-101.00,342M207.00,36L-99.00,342M209.00,36L-97.00,342M211.00,36L-95.00,342M213.00,36L-93.00,342M215.00,36L-91.00,342M217.00,36L-89.00,342M219.00,36L-87.00,342M221.00,36L-85.00,342M223.00,36L-83.00,342M225.00,36L-81.00,342M227.00,36L-79.00,342M229.00,36L-77.00,342M231.00,36L-75.00,342M233.00,36L-73.00,342M235.00,36L-71.00,342M237.00,36L-69.00,342M239.00,36L-67.00,342M241.00,36L-65.00,342M243.00,36L-63.00,342M245.00,36L-61.00,342M247.00,36L-59.00,342M249.00,36L-57.00,342M251.00,36L-55.00,342M253.00,36L-53.00,342M255.00,36L-51.00,342M257.00,36L-49.00,342M259.00,36L-47.00,342M261.00,36L-45.00,342M263.00,36L-43.00,342M265.00,36L-41.00,342M267.00,36L-39.00,342M269.00,36L-37.00,342M271.00,36L-35.00,342M273.00,36L-33.00,342M275.00,36L-31.00,342M277.00,36L-29.00,342M279.00,36L-27.00,342M281.00,36L-25.00,342M283.00,36L-23.00,342M285.00,36L-21.00,342M287.00,36L-19.00,342M289.00,36L-17.00,342M291.00,36L-15.00,342M293.00,36L-13.00,342M295.00,36L-11.00,342M297.00,36L-9.00,342M299.00,36L-7.00,342M301.00,36L-5.00,342M303.00,36L-3.00,342M305.00,36L-1.00,342M307.00,36L1.00,342M309.00,36L3.00,342M311.00,36L5.00,342M313.00,36L7.00,342M315.00,36L9.00,342M317.00,36L11.00,342M319.00,36L13.00,342M321.00,36L15.00,342M323.00,36L17.00,342M325.00,36L19.00,342M327.00,36L21.00,342M329.00,36L23.00,342M331.00,36L25.00,342M333.00,36L27.00,342M335.00,36L29.00,342M337.00,36L31.00,342M339.00,36L33.00,342M341.00,36L35.00,342M343.00,36L37.00,342M345.00,36L39.00,342M347.00,36L41.00,342M349.00,36L43.00,342M351.00,36L45.00,342M353.00,36L47.00,342M355.00,36L49.00,342M357.00,36L51.00,342M359.00,36L53.00,342M361.00,36L55.00,342M363.00,36L57.00,342M365.00,36L59.00,342M367.00,36L61.00,342M369.00,36L63.00,342M371.00,36L65.00,342M373.00,36L67.00,342M375.00,36L69.00,342M377.00,36L71.00,342M379.00,36L73.00,342M381.00,36L75.00,342M383.00,36L77.00,342M385.00,36L79.00,342M387.00,36L81.00,342M389.00,36L83.00,342M391.00,36L85.00,342M393.00,36L87.00,342M395.00,36L89.00,342M397.00,36L91.00,342M399.00,36L93.00,342M401.00,36L95.00,342M403.00,36L97.00,342M405.00,36L99.00,342M407.00,36L101.00,342M409.00,36L103.00,342M411.00,36L105.00,342M413.00,36L107.00,342M415.00,36L109.00,342M417.00,36L111.00,342M419.00,36L113.00,342M421.00,36L115.00,342M423.00,36L117.00,342M425.00,36L119.00,342M427.00,36L121.00,342M429.00,36L123.00,342M431.00,36L125.00,342M433.00,36L127.00,342M435.00,36L129.00,342M437.00,36L131.00,342M439.00,36L133.00,342M441.00,36L135.00,342M443.00,36L137.00,342M445.00,36L139.00,342M447.00,36L141.00,342M449.00,36L143.00,342M451.00,36L145.00,342M453.00,36L147.00,342M455.00,36L149.00,342M457.00,36L151.00,342M459.00,36L153.00,342M461.00,36L155.00,342M463.00,36L157.00,342M465.00,36L159.00,342M467.00,36L161.00,342M469.00,36L163.00,342M471.00,36L165.00,342M473.00,36L167.00,342M475.00,36L169.00,342M477.00,36L171.00,342M479.00,36L173.00,342M481.00,36L175.00,342M483.00,36L177.00,342M485.00,36L179.00,342M487.00,36L181.00,342M489.00,36L183.00,342M491.00,36L185.00,342M493.00,36L187.00,342M495.00,36L189.00,342M497.00,36L191.00,342M499.00,36L193.00,342M501.00,36L195.00,342M503.00,36L197.00,342M505.00,36L199.00,342M507.00,36L201.00,342M509.00,36L203.00,342M511.00,36L205.00,342M513.00,36L207.00,342M515.00,36L209.00,342M517.00,36L211.00,342M519.00,36L213.00,342M521.00,36L215.00,342M523.00,36L217.00,342M525.00,36L219.00,342M527.00,36L221.00,342M529.00,36L223.00,342M531.00,36L225.00,342M533.00,36L227.00,342M535.00,36L229.00,342M537.00,36L231.00,342M539.00,36L233.00,342M541.00,36L235.00,342M543.00,36L237.00,342M545.00,36L239.00,342M547.00,36L241.00,342M549.00,36L243.00,342M551.00,36L245.00,342M553.00,36L247.00,342M555.00,36L249.00,342M557.00,36L251.00,342M559.00,36L253.00,342M561.00,36L255.00,342M563.00,36L257.00,342M565.00,36L259.00,342M567.00,36L261.00,342M569.00,36L263.00,342M571.00,36L265.00,342M573.00,36L267.00,342M575.00,36L269.00,342M577.00,36L271.00,342M579.00,36L273.00,342M581.00,36L275.00,342M583.00,36L277.00,342M585.00,36L279.00,342M587.00,36L281.00,342M589.00,36L283.00,342M591.00,36L285.00,342M593.00,36L287.00,342M595.00,36L289.00,342M597.00,36L291.00,342M599.00,36L293.00,342M601.00,36L295.00,342M603.00,36L297.00,342M605.00,36L299.00,342M607.00,36L301.00,342M609.00,36L303.00,342M611.00,36L305.00,342M613.00,36L307.00,342M615.00,36L309.00,342M617.00,36L311.00,342M619.00,36L313.00,342M621.00,36L315.00,342M623.00,36L317.00,342M625.00,36L319.00,342M627.00,36L321.00,342M629.00,36L323.00,342M631.00,36L325.00,342M633.00,36L327.00,342M635.00,36L329.00,342M637.00,36L331.00,342M639.00,36L333.00,342M641.00,36L335.00,342M643.00,36L337.00,342M645.00,36L339.00,342M647.00,36L341.00,342M649.00,36L343.00,342M651.00,36L345.00,342M653.00,36L347.00,342M655.00,36L349.00,342M657.00,36L351.00,342M659.00,36L353.00,342M661.00,36L355.00,342M663.00,36L357.00,342M665.00,36L359.00,342M667.00,36L361.00,342M669.00,36L363.00,342M671.00,36L365.00,342M673.00,36L367.00,342M675.00,36L369.00,342M677.00,36L371.00,342M679.00,36L373.00,342M681.00,36L375.00,342M683.00,36L377.00,342M685.00,36L379.00,342M687.00,36L381.00,342M689.00,36L383.00,342M691.00,36L385.00,342M693.00,36L387.00,342M695.00,36L389.00,342M697.00,36L391.00,342M699.00,36L393.00,342M701.00,36L395.00,342M703.00,36L397.00,342M705.00,36L399.00,342M707.00,36L401.00,342M709.00,36L403.00,342M711.00,36L405.00,342M713.00,36L407.00,342M715.00,36L409.00,342M717.00,36L411.00,342M719.00,36L413.00,342M721.00,36L415.00,342M723.00,36L417.00,342M725.00,36L419.00,342M727.00,36L421.00,342M729.00,36L423.00,342M731.00,36L425.00,342M733.00,36L427.00,342M735.00,36L429.00,342M737.00,36L431.00,342M739.00,36L433.00,342M741.00,36L435.00,342M743.00,36L437.00,342M745.00,36L439.00,342M747.00,36L441.00,342M749.00,36L443.00,342M751.00,36L445.00,342M753.00,36L447.00,342M755.00,36L449.00,342M757.00,36L451.00,342M759.00,36L453.00,342M761.00,36L455.00,342M763.00,36L457.00,342M765.00,36L459.00,342M767.00,36L461.00,342M769.00,36L463.00,342M771.00,36L465.00,342M773.00,36L467.00,342M775.00,36L469.00,342M777.00,36L471.00,342M779.00,36L473.00,342M781.00,36L475.00,342M783.00,36L477.00,342M785.00,36L479.00,342M787.00,36L481.00,342M789.00,36L483.00,342M791.00,36L485.00,342M793.00,36L487.00,342M795.00,36L489.00,342M797.00,36L491.00,342M799.00,36L493.00,342M801.00,36L495.00,342M803.00,36L497.00,342M805.00,36L499.00,342M807.00,36L501.00,342M809.00,36L503.00,342"/><path d="M-266.00,36L40.00,342M-264.00,36L42.00,342M-262.00,36L44.00,342M-260.00,36L46.00,342M-258.00,36L48.00,342M-256.00,36L50.00,342M-254.00,36L52.00,342M-252.00,36L54.00,342M-250.00,36L56.00,342M-248.00,36L58.00,342M-246.00,36L60.00,342M-244.00,36L62.00,342M-242.00,36L64.00,342M-240.00,36L66.00,342M-238.00,36L68.00,342M-236.00,36L70.00,342M-234.00,36L72.00,342M-232.00,36L74.00,342M-230.00,36L76.00,342M-228.00,36L78.00,342M-226.00,36L80.00,342M-224.00,36L82.00,342M-222.00,36L84.00,342M-220.00,36L86.00,342M-218.00,36L88.00,342M-216.00,36L90.00,342M-214.00,36L92.00,342M-212.00,36L94.00,342M-210.00,36L96.00,342M-208.00,36L98.00,342M-206.00,36L100.00,342M-204.00,36L102.00,342M-202.00,36L104.00,342M-200.00,36L106.00,342M-198.00,36L108.00,342M-196.00,36L110.00,342M-194.00,36L112.00,342M-192.00,36L114.00,342M-190.00,36L116.00,342M-188.00,36L118.00,342M-186.00,36L120.00,342M-184.00,36L122.00,342M-182.00,36L124.00,342M-180.00,36L126.00,342M-178.00,36L128.00,342M-176.00,36L130.00,342M-174.00,36L132.00,342M-172.00,36L134.00,342M-170.00,36L136.00,342M-168.00,36L138.00,342M-166.00,36L140.00,342M-164.00,36L142.00,342M-162.00,36L144.00,342M-160.00,36L146.00,342M-158.00,36L148.00,342M-156.00,36L150.00,342M-154.00,36L152.00,342M-152.00,36L154.00,342M-150.00,36L156.00,342M-148.00,36L158.00,342M-146.00,36L160.00,342M-144.00,36L162.00,342M-142.00,36L164.00,342M-140.00,36L166.00,342M-138.00,36L168.00,342M-136.00,36L170.00,342M-134.00,36L172.00,342M-132.00,36L174.00,342M-130.00,36L176.00,342M-128.00,36L178.00,342M-126.00,36L180.00,342M-124.00,36L182.00,342M-122.00,36L184.00,342M-120.00,36L186.00,342M-118.00,36L188.00,342M-116.00,36L190.00,342M-114.00,36L192.00,342M-112.00,36L194.00,342M-110.00,36L196.00,342M-108.00,36L198.00,342M-106.00,36L200.00,342M-104.00,36L202.00,342M-102.00,36L204.00,342M-100.00,36L206.00,342M-98.00,36L208.00,342M-96.00,36L210.00,342M-94.00,36L212.00,342M-92.00,36L214.00,342M-90.00,36L216.00,342M-88.00,36L218.00,342M-86.00,36L220.00,342M-84.00,36L222.00,342M-82.00,36L224.00,342M-80.00,36L226.00,342M-78.00,36L228.00,342M-76.00,36L230.00,342M-74.00,36L232.00,342M-72.00,36L234.00,342M-70.00,36L236.00,342M-68.00,36L238.00,342M-66.00,36L240.00,342M-64.00,36L242.00,342M-62.00,36L244.00,342M-60.00,36L246.00,342M-58.00,36L248.00,342M-56.00,36L250.00,342M-54.00,36L252.00,342M-52.00,36L254.00,342M-50.00,36L256.00,342M-48.00,36L258.00,342M-46.00,36L260.00,342M-44.00,36L262.00,342M-42.00,36L264.00,342M-40.00,36L266.00,342M-38.00,36L268.00,342M-36.00,36L270.00,342M-34.00,36L272.00,342M-32.00,36L274.00,342M-30.00,36L276.00,342M-28.00,36L278.00,342M-26.00,36L280.00,342M-24.00,36L282.00,342M-22.00,36L284.00,342M-20.00,36L286.00,342M-18.00,36L288.00,342M-16.00,36L290.00,342M-14.00,36L292.00,342M-12.00,36L294.00,342M-10.00,36L296.00,342M-8.00,36L298.00,342M-6.00,36L300.00,342M-4.00,36L302.00,342M-2.00,36L304.00,342M0.00,36L306.00,342M2.00,36L308.00,342M4.00,36L310.00,342M6.00,36L312.00,342M8.00,36L314.00,342M10.00,36L316.00,342M12.00,36L318.00,342M14.00,36L320.00,342M16.00,36L322.00,342M18.00,36L324.00,342M20.00,36L326.00,342M22.00,36L328.00,342M24.00,36L330.00,342M26.00,36L332.00,342M28.00,36L334.00,342M30.00,36L336.00,342M32.00,36L338.00,342M34.00,36L340.00,342M36.00,36L342.00,342M38.00,36L344.00,342M40.00,36L346.00,342M42.00,36L348.00,342M44.00,36L350.00,342M46.00,36L352.00,342M48.00,36L354.00,342M50.00,36L356.00,342M52.00,36L358.00,342M54.00,36L360.00,342M56.00,36L362.00,342M58.00,36L364.00,342M60.00,36L366.00,342M62.00,36L368.00,342M64.00,36L370.00,342M66.00,36L372.00,342M68.00,36L374.00,342M70.00,36L376.00,342M72.00,36L378.00,342M74.00,36L380.00,342M76.00,36L382.00,342M78.00,36L384.00,342M80.00,36L386.00,342M82.00,36L388.00,342M84.00,36L390.00,342M86.00,36L392.00,342M88.00,36L394.00,342M90.00,36L396.00,342M92.00,36L398.00,342M94.00,36L400.00,342M96.00,36L402.00,342M98.00,36L404.00,342M100.00,36L406.00,342M102.00,36L408.00,342M104.00,36L410.00,342M106.00,36L412.00,342M108.00,36L414.00,342M110.00,36L416.00,342M112.00,36L418.00,342M114.00,36L420.00,342M116.00,36L422.00,342M118.00,36L424.00,342M120.00,36L426.00,342M122.00,36L428.00,342M124.00,36L430.00,342M126.00,36L432.00,342M128.00,36L434.00,342M130.00,36L436.00,342M132.00,36L438.00,342M134.00,36L440.00,342M136.00,36L442.00,342M138.00,36L444.00,342M140.00,36L446.00,342M142.00,36L448.00,342M144.00,36L450.00,342M146.00,36L452.00,342M148.00,36L454.00,342M150.00,36L456.00,342M152.00,36L458.00,342M154.00,36L460.00,342M156.00,36L462.00,342M158.00,36L464.00,342M160.00,36L466.00,342M162.00,36L468.00,342M164.00,36L470.00,342M166.00,36L472.00,342M168.00,36L474.00,342M170.00,36L476.00,342M172.00,36L478.00,342M174.00,36L480.00,342M176.00,36L482.00,342M178.00,36L484.00,342M180.00,36L486.00,342M182.00,36L488.00,342M184.00,36L490.00,342M186.00,36L492.00,342M188.00,36L494.00,342M190.00,36L496.00,342M192.00,36L498.00,342M194.00,36L500.00,342M196.00,36L502.00,342M198.00,36L504.00,342M200.00,36L506.00,342M202.00,36L508.00,342M204.00,36L510.00,342M206.00,36L512.00,342M208.00,36L514.00,342M210.00,36L516.00,342M212.00,36L518.00,342M214.00,36L520.00,342M216.00,36L522.00,342M218.00,36L524.00,342M220.00,36L526.00,342M222.00,36L528.00,342M224.00,36L530.00,342M226.00,36L532.00,342M228.00,36L534.00,342M230.00,36L536.00,342M232.00,36L538.00,342M234.00,36L540.00,342M236.00,36L542.00,342M238.00,36L544.00,342M240.00,36L546.00,342M242.00,36L548.00,342M244.00,36L550.00,342M246.00,36L552.00,342M248.00,36L554.00,342M250.00,36L556.00,342M252.00,36L558.00,342M254.00,36L560.00,342M256.00,36L562.00,342M258.00,36L564.00,342M260.00,36L566.00,342M262.00,36L568.00,342M264.00,36L570.00,342M266.00,36L572.00,342M268.00,36L574.00,342M270.00,36L576.00,342M272.00,36L578.00,342M274.00,36L580.00,342M276.00,36L582.00,342M278.00,36L584.00,342M280.00,36L586.00,342M282.00,36L588.00,342M284.00,36L590.00,342M286.00,36L592.00,342M288.00,36L594.00,342M290.00,36L596.00,342M292.00,36L598.00,342M294.00,36L600.00,342M296.00,36L602.00,342M298.00,36L604.00,342M300.00,36L606.00,342M302.00,36L608.00,342M304.00,36L610.00,342M306.00,36L612.00,342M308.00,36L614.00,342M310.00,36L616.00,342M312.00,36L618.00,342M314.00,36L620.00,342M316.00,36L622.00,342M318.00,36L624.00,342M320.00,36L626.00,342M322.00,36L628.00,342M324.00,36L630.00,342M326.00,36L632.00,342M328.00,36L634.00,342M330.00,36L636.00,342M332.00,36L638.00,342M334.00,36L640.00,342M336.00,36L642.00,342M338.00,36L644.00,342M340.00,36L646.00,342M342.00,36L648.00,342M344.00,36L650.00,342M346.00,36L652.00,342M348.00,36L654.00,342M350.00,36L656.00,342M352.00,36L658.00,342M354.00,36L660.00,342M356.00,36L662.00,342M358.00,36L664.00,342M360.00,36L666.00,342M362.00,36L668.00,342M364.00,36L670.00,342M366.00,36L672.00,342M368.00,36L674.00,342M370.00,36L676.00,342M372.00,36L678.00,342M374.00,36L680.00,342M376.00,36L682.00,342M378.00,36L684.00,342M380.00,36L686.00,342M382.00,36L688.00,342M384.00,36L690.00,342M386.00,36L692.00,342M388.00,36L694.00,342M390.00,36L696.00,342M392.00,36L698.00,342M394.00,36L700.00,342M396.00,36L702.00,342M398.00,36L704.00,342M400.00,36L706.00,342M402.00,36L708.00,342M404.00,36L710.00,342M406.00,36L712.00,342M408.00,36L714.00,342M410.00,36L716.00,342M412.00,36L718.00,342M414.00,36L720.00,342M416.00,36L722.00,342M418.00,36L724.00,342M420.00,36L726.00,342M422.00,36L728.00,342M424.00,36L730.00,342M426.00,36L732.00,342M428.00,36L734.00,342M430.00,36L736.00,342M432.00,36L738.00,342M434.00,36L740.00,342M436.00,36L742.00,342M438.00,36L744.00,342M440.00,36L746.00,342M442.00,36L748.00,342M444.00,36L750.00,342M446.00,36L752.00,342M448.00,36L754.00,342M450.00,36L756.00,342M452.00,36L758.00,342M454.00,36L760.00,342M456.00,36L762.00,342M458.00,36L764.00,342M460.00,36L766.00,342M462.00,36L768.00,342M464.00,36L770.00,342M466.00,36L772.00,342M468.00,36L774.00,342M470.00,36L776.00,342M472.00,36L778.00,342M474.00,36L780.00,342M476.00,36L782.00,342M478.00,36L784.00,342M480.00,36L786.00,342M482.00,36L788.00,342M484.00,36L790.00,342M486.00,36L792.00,342M488.00,36L794.00,342M490.00,36L796.00,342M492.00,36L798.00,342M494.00,36L800.00,342M496.00,36L802.00,342M498.00,36L804.00,342M500.00,36L806.00,342M502.00,36L808.00,342"/></g></g>
<clipPath id="c-blue2"><rect x="247.60" y="40.05" width="1.50" height="11.45"/><rect x="247.10" y="54.30" width="1.00" height="11.45"/><rect x="247.90" y="68.55" width="1.40" height="11.45"/><rect x="240.40" y="82.80" width="1.50" height="11.45"/><rect x="239.80" y="97.05" width="0.60" height="11.45"/><rect x="245.30" y="111.30" width="1.20" height="11.45"/><rect x="122.60" y="146.21" width="12.30" height="5.10"/><rect x="484.00" y="40.05" width="4.50" height="11.45"/><rect x="480.50" y="54.30" width="5.60" height="11.45"/><rect x="481.70" y="68.55" width="7.10" height="11.45"/><rect x="471.00" y="82.80" width="3.30" height="11.45"/><rect x="475.00" y="97.05" width="2.40" height="11.45"/><rect x="475.20" y="111.30" width="6.50" height="11.45"/><rect x="378.20" y="146.41" width="12.30" height="5.10"/><rect x="160.30" y="218.25" width="5.50" height="11.45"/><rect x="172.30" y="232.50" width="6.00" height="11.45"/><rect x="163.10" y="246.75" width="5.90" height="11.45"/><rect x="153.90" y="261.00" width="7.60" height="11.45"/><rect x="159.00" y="275.25" width="4.80" height="11.45"/><rect x="130.40" y="289.50" width="5.60" height="11.45"/><rect x="129.20" y="324.21" width="12.30" height="5.10"/><rect x="387.90" y="218.25" width="1.90" height="11.45"/><rect x="393.50" y="246.75" width="7.40" height="11.45"/><rect x="388.00" y="261.00" width="2.80" height="11.45"/><rect x="396.00" y="275.25" width="4.80" height="11.45"/><rect x="366.80" y="289.50" width="25.40" height="11.45"/><rect x="369.10" y="323.91" width="12.30" height="5.10"/></clipPath>
<g clip-path="url(#c-blue2)"><rect x="40" y="36" width="464" height="306" fill="#0094e0"/><g stroke="#002050" stroke-width="0.26" fill="none"><path d="M41.00,36L-265.00,342M43.00,36L-263.00,342M45.00,36L-261.00,342M47.00,36L-259.00,342M49.00,36L-257.00,342M51.00,36L-255.00,342M53.00,36L-253.00,342M55.00,36L-251.00,342M57.00,36L-249.00,342M59.00,36L-247.00,342M61.00,36L-245.00,342M63.00,36L-243.00,342M65.00,36L-241.00,342M67.00,36L-239.00,342M69.00,36L-237.00,342M71.00,36L-235.00,342M73.00,36L-233.00,342M75.00,36L-231.00,342M77.00,36L-229.00,342M79.00,36L-227.00,342M81.00,36L-225.00,342M83.00,36L-223.00,342M85.00,36L-221.00,342M87.00,36L-219.00,342M89.00,36L-217.00,342M91.00,36L-215.00,342M93.00,36L-213.00,342M95.00,36L-211.00,342M97.00,36L-209.00,342M99.00,36L-207.00,342M101.00,36L-205.00,342M103.00,36L-203.00,342M105.00,36L-201.00,342M107.00,36L-199.00,342M109.00,36L-197.00,342M111.00,36L-195.00,342M113.00,36L-193.00,342M115.00,36L-191.00,342M117.00,36L-189.00,342M119.00,36L-187.00,342M121.00,36L-185.00,342M123.00,36L-183.00,342M125.00,36L-181.00,342M127.00,36L-179.00,342M129.00,36L-177.00,342M131.00,36L-175.00,342M133.00,36L-173.00,342M135.00,36L-171.00,342M137.00,36L-169.00,342M139.00,36L-167.00,342M141.00,36L-165.00,342M143.00,36L-163.00,342M145.00,36L-161.00,342M147.00,36L-159.00,342M149.00,36L-157.00,342M151.00,36L-155.00,342M153.00,36L-153.00,342M155.00,36L-151.00,342M157.00,36L-149.00,342M159.00,36L-147.00,342M161.00,36L-145.00,342M163.00,36L-143.00,342M165.00,36L-141.00,342M167.00,36L-139.00,342M169.00,36L-137.00,342M171.00,36L-135.00,342M173.00,36L-133.00,342M175.00,36L-131.00,342M177.00,36L-129.00,342M179.00,36L-127.00,342M181.00,36L-125.00,342M183.00,36L-123.00,342M185.00,36L-121.00,342M187.00,36L-119.00,342M189.00,36L-117.00,342M191.00,36L-115.00,342M193.00,36L-113.00,342M195.00,36L-111.00,342M197.00,36L-109.00,342M199.00,36L-107.00,342M201.00,36L-105.00,342M203.00,36L-103.00,342M205.00,36L-101.00,342M207.00,36L-99.00,342M209.00,36L-97.00,342M211.00,36L-95.00,342M213.00,36L-93.00,342M215.00,36L-91.00,342M217.00,36L-89.00,342M219.00,36L-87.00,342M221.00,36L-85.00,342M223.00,36L-83.00,342M225.00,36L-81.00,342M227.00,36L-79.00,342M229.00,36L-77.00,342M231.00,36L-75.00,342M233.00,36L-73.00,342M235.00,36L-71.00,342M237.00,36L-69.00,342M239.00,36L-67.00,342M241.00,36L-65.00,342M243.00,36L-63.00,342M245.00,36L-61.00,342M247.00,36L-59.00,342M249.00,36L-57.00,342M251.00,36L-55.00,342M253.00,36L-53.00,342M255.00,36L-51.00,342M257.00,36L-49.00,342M259.00,36L-47.00,342M261.00,36L-45.00,342M263.00,36L-43.00,342M265.00,36L-41.00,342M267.00,36L-39.00,342M269.00,36L-37.00,342M271.00,36L-35.00,342M273.00,36L-33.00,342M275.00,36L-31.00,342M277.00,36L-29.00,342M279.00,36L-27.00,342M281.00,36L-25.00,342M283.00,36L-23.00,342M285.00,36L-21.00,342M287.00,36L-19.00,342M289.00,36L-17.00,342M291.00,36L-15.00,342M293.00,36L-13.00,342M295.00,36L-11.00,342M297.00,36L-9.00,342M299.00,36L-7.00,342M301.00,36L-5.00,342M303.00,36L-3.00,342M305.00,36L-1.00,342M307.00,36L1.00,342M309.00,36L3.00,342M311.00,36L5.00,342M313.00,36L7.00,342M315.00,36L9.00,342M317.00,36L11.00,342M319.00,36L13.00,342M321.00,36L15.00,342M323.00,36L17.00,342M325.00,36L19.00,342M327.00,36L21.00,342M329.00,36L23.00,342M331.00,36L25.00,342M333.00,36L27.00,342M335.00,36L29.00,342M337.00,36L31.00,342M339.00,36L33.00,342M341.00,36L35.00,342M343.00,36L37.00,342M345.00,36L39.00,342M347.00,36L41.00,342M349.00,36L43.00,342M351.00,36L45.00,342M353.00,36L47.00,342M355.00,36L49.00,342M357.00,36L51.00,342M359.00,36L53.00,342M361.00,36L55.00,342M363.00,36L57.00,342M365.00,36L59.00,342M367.00,36L61.00,342M369.00,36L63.00,342M371.00,36L65.00,342M373.00,36L67.00,342M375.00,36L69.00,342M377.00,36L71.00,342M379.00,36L73.00,342M381.00,36L75.00,342M383.00,36L77.00,342M385.00,36L79.00,342M387.00,36L81.00,342M389.00,36L83.00,342M391.00,36L85.00,342M393.00,36L87.00,342M395.00,36L89.00,342M397.00,36L91.00,342M399.00,36L93.00,342M401.00,36L95.00,342M403.00,36L97.00,342M405.00,36L99.00,342M407.00,36L101.00,342M409.00,36L103.00,342M411.00,36L105.00,342M413.00,36L107.00,342M415.00,36L109.00,342M417.00,36L111.00,342M419.00,36L113.00,342M421.00,36L115.00,342M423.00,36L117.00,342M425.00,36L119.00,342M427.00,36L121.00,342M429.00,36L123.00,342M431.00,36L125.00,342M433.00,36L127.00,342M435.00,36L129.00,342M437.00,36L131.00,342M439.00,36L133.00,342M441.00,36L135.00,342M443.00,36L137.00,342M445.00,36L139.00,342M447.00,36L141.00,342M449.00,36L143.00,342M451.00,36L145.00,342M453.00,36L147.00,342M455.00,36L149.00,342M457.00,36L151.00,342M459.00,36L153.00,342M461.00,36L155.00,342M463.00,36L157.00,342M465.00,36L159.00,342M467.00,36L161.00,342M469.00,36L163.00,342M471.00,36L165.00,342M473.00,36L167.00,342M475.00,36L169.00,342M477.00,36L171.00,342M479.00,36L173.00,342M481.00,36L175.00,342M483.00,36L177.00,342M485.00,36L179.00,342M487.00,36L181.00,342M489.00,36L183.00,342M491.00,36L185.00,342M493.00,36L187.00,342M495.00,36L189.00,342M497.00,36L191.00,342M499.00,36L193.00,342M501.00,36L195.00,342M503.00,36L197.00,342M505.00,36L199.00,342M507.00,36L201.00,342M509.00,36L203.00,342M511.00,36L205.00,342M513.00,36L207.00,342M515.00,36L209.00,342M517.00,36L211.00,342M519.00,36L213.00,342M521.00,36L215.00,342M523.00,36L217.00,342M525.00,36L219.00,342M527.00,36L221.00,342M529.00,36L223.00,342M531.00,36L225.00,342M533.00,36L227.00,342M535.00,36L229.00,342M537.00,36L231.00,342M539.00,36L233.00,342M541.00,36L235.00,342M543.00,36L237.00,342M545.00,36L239.00,342M547.00,36L241.00,342M549.00,36L243.00,342M551.00,36L245.00,342M553.00,36L247.00,342M555.00,36L249.00,342M557.00,36L251.00,342M559.00,36L253.00,342M561.00,36L255.00,342M563.00,36L257.00,342M565.00,36L259.00,342M567.00,36L261.00,342M569.00,36L263.00,342M571.00,36L265.00,342M573.00,36L267.00,342M575.00,36L269.00,342M577.00,36L271.00,342M579.00,36L273.00,342M581.00,36L275.00,342M583.00,36L277.00,342M585.00,36L279.00,342M587.00,36L281.00,342M589.00,36L283.00,342M591.00,36L285.00,342M593.00,36L287.00,342M595.00,36L289.00,342M597.00,36L291.00,342M599.00,36L293.00,342M601.00,36L295.00,342M603.00,36L297.00,342M605.00,36L299.00,342M607.00,36L301.00,342M609.00,36L303.00,342M611.00,36L305.00,342M613.00,36L307.00,342M615.00,36L309.00,342M617.00,36L311.00,342M619.00,36L313.00,342M621.00,36L315.00,342M623.00,36L317.00,342M625.00,36L319.00,342M627.00,36L321.00,342M629.00,36L323.00,342M631.00,36L325.00,342M633.00,36L327.00,342M635.00,36L329.00,342M637.00,36L331.00,342M639.00,36L333.00,342M641.00,36L335.00,342M643.00,36L337.00,342M645.00,36L339.00,342M647.00,36L341.00,342M649.00,36L343.00,342M651.00,36L345.00,342M653.00,36L347.00,342M655.00,36L349.00,342M657.00,36L351.00,342M659.00,36L353.00,342M661.00,36L355.00,342M663.00,36L357.00,342M665.00,36L359.00,342M667.00,36L361.00,342M669.00,36L363.00,342M671.00,36L365.00,342M673.00,36L367.00,342M675.00,36L369.00,342M677.00,36L371.00,342M679.00,36L373.00,342M681.00,36L375.00,342M683.00,36L377.00,342M685.00,36L379.00,342M687.00,36L381.00,342M689.00,36L383.00,342M691.00,36L385.00,342M693.00,36L387.00,342M695.00,36L389.00,342M697.00,36L391.00,342M699.00,36L393.00,342M701.00,36L395.00,342M703.00,36L397.00,342M705.00,36L399.00,342M707.00,36L401.00,342M709.00,36L403.00,342M711.00,36L405.00,342M713.00,36L407.00,342M715.00,36L409.00,342M717.00,36L411.00,342M719.00,36L413.00,342M721.00,36L415.00,342M723.00,36L417.00,342M725.00,36L419.00,342M727.00,36L421.00,342M729.00,36L423.00,342M731.00,36L425.00,342M733.00,36L427.00,342M735.00,36L429.00,342M737.00,36L431.00,342M739.00,36L433.00,342M741.00,36L435.00,342M743.00,36L437.00,342M745.00,36L439.00,342M747.00,36L441.00,342M749.00,36L443.00,342M751.00,36L445.00,342M753.00,36L447.00,342M755.00,36L449.00,342M757.00,36L451.00,342M759.00,36L453.00,342M761.00,36L455.00,342M763.00,36L457.00,342M765.00,36L459.00,342M767.00,36L461.00,342M769.00,36L463.00,342M771.00,36L465.00,342M773.00,36L467.00,342M775.00,36L469.00,342M777.00,36L471.00,342M779.00,36L473.00,342M781.00,36L475.00,342M783.00,36L477.00,342M785.00,36L479.00,342M787.00,36L481.00,342M789.00,36L483.00,342M791.00,36L485.00,342M793.00,36L487.00,342M795.00,36L489.00,342M797.00,36L491.00,342M799.00,36L493.00,342M801.00,36L495.00,342M803.00,36L497.00,342M805.00,36L499.00,342M807.00,36L501.00,342M809.00,36L503.00,342"/><path d="M-266.00,36L40.00,342M-264.00,36L42.00,342M-262.00,36L44.00,342M-260.00,36L46.00,342M-258.00,36L48.00,342M-256.00,36L50.00,342M-254.00,36L52.00,342M-252.00,36L54.00,342M-250.00,36L56.00,342M-248.00,36L58.00,342M-246.00,36L60.00,342M-244.00,36L62.00,342M-242.00,36L64.00,342M-240.00,36L66.00,342M-238.00,36L68.00,342M-236.00,36L70.00,342M-234.00,36L72.00,342M-232.00,36L74.00,342M-230.00,36L76.00,342M-228.00,36L78.00,342M-226.00,36L80.00,342M-224.00,36L82.00,342M-222.00,36L84.00,342M-220.00,36L86.00,342M-218.00,36L88.00,342M-216.00,36L90.00,342M-214.00,36L92.00,342M-212.00,36L94.00,342M-210.00,36L96.00,342M-208.00,36L98.00,342M-206.00,36L100.00,342M-204.00,36L102.00,342M-202.00,36L104.00,342M-200.00,36L106.00,342M-198.00,36L108.00,342M-196.00,36L110.00,342M-194.00,36L112.00,342M-192.00,36L114.00,342M-190.00,36L116.00,342M-188.00,36L118.00,342M-186.00,36L120.00,342M-184.00,36L122.00,342M-182.00,36L124.00,342M-180.00,36L126.00,342M-178.00,36L128.00,342M-176.00,36L130.00,342M-174.00,36L132.00,342M-172.00,36L134.00,342M-170.00,36L136.00,342M-168.00,36L138.00,342M-166.00,36L140.00,342M-164.00,36L142.00,342M-162.00,36L144.00,342M-160.00,36L146.00,342M-158.00,36L148.00,342M-156.00,36L150.00,342M-154.00,36L152.00,342M-152.00,36L154.00,342M-150.00,36L156.00,342M-148.00,36L158.00,342M-146.00,36L160.00,342M-144.00,36L162.00,342M-142.00,36L164.00,342M-140.00,36L166.00,342M-138.00,36L168.00,342M-136.00,36L170.00,342M-134.00,36L172.00,342M-132.00,36L174.00,342M-130.00,36L176.00,342M-128.00,36L178.00,342M-126.00,36L180.00,342M-124.00,36L182.00,342M-122.00,36L184.00,342M-120.00,36L186.00,342M-118.00,36L188.00,342M-116.00,36L190.00,342M-114.00,36L192.00,342M-112.00,36L194.00,342M-110.00,36L196.00,342M-108.00,36L198.00,342M-106.00,36L200.00,342M-104.00,36L202.00,342M-102.00,36L204.00,342M-100.00,36L206.00,342M-98.00,36L208.00,342M-96.00,36L210.00,342M-94.00,36L212.00,342M-92.00,36L214.00,342M-90.00,36L216.00,342M-88.00,36L218.00,342M-86.00,36L220.00,342M-84.00,36L222.00,342M-82.00,36L224.00,342M-80.00,36L226.00,342M-78.00,36L228.00,342M-76.00,36L230.00,342M-74.00,36L232.00,342M-72.00,36L234.00,342M-70.00,36L236.00,342M-68.00,36L238.00,342M-66.00,36L240.00,342M-64.00,36L242.00,342M-62.00,36L244.00,342M-60.00,36L246.00,342M-58.00,36L248.00,342M-56.00,36L250.00,342M-54.00,36L252.00,342M-52.00,36L254.00,342M-50.00,36L256.00,342M-48.00,36L258.00,342M-46.00,36L260.00,342M-44.00,36L262.00,342M-42.00,36L264.00,342M-40.00,36L266.00,342M-38.00,36L268.00,342M-36.00,36L270.00,342M-34.00,36L272.00,342M-32.00,36L274.00,342M-30.00,36L276.00,342M-28.00,36L278.00,342M-26.00,36L280.00,342M-24.00,36L282.00,342M-22.00,36L284.00,342M-20.00,36L286.00,342M-18.00,36L288.00,342M-16.00,36L290.00,342M-14.00,36L292.00,342M-12.00,36L294.00,342M-10.00,36L296.00,342M-8.00,36L298.00,342M-6.00,36L300.00,342M-4.00,36L302.00,342M-2.00,36L304.00,342M0.00,36L306.00,342M2.00,36L308.00,342M4.00,36L310.00,342M6.00,36L312.00,342M8.00,36L314.00,342M10.00,36L316.00,342M12.00,36L318.00,342M14.00,36L320.00,342M16.00,36L322.00,342M18.00,36L324.00,342M20.00,36L326.00,342M22.00,36L328.00,342M24.00,36L330.00,342M26.00,36L332.00,342M28.00,36L334.00,342M30.00,36L336.00,342M32.00,36L338.00,342M34.00,36L340.00,342M36.00,36L342.00,342M38.00,36L344.00,342M40.00,36L346.00,342M42.00,36L348.00,342M44.00,36L350.00,342M46.00,36L352.00,342M48.00,36L354.00,342M50.00,36L356.00,342M52.00,36L358.00,342M54.00,36L360.00,342M56.00,36L362.00,342M58.00,36L364.00,342M60.00,36L366.00,342M62.00,36L368.00,342M64.00,36L370.00,342M66.00,36L372.00,342M68.00,36L374.00,342M70.00,36L376.00,342M72.00,36L378.00,342M74.00,36L380.00,342M76.00,36L382.00,342M78.00,36L384.00,342M80.00,36L386.00,342M82.00,36L388.00,342M84.00,36L390.00,342M86.00,36L392.00,342M88.00,36L394.00,342M90.00,36L396.00,342M92.00,36L398.00,342M94.00,36L400.00,342M96.00,36L402.00,342M98.00,36L404.00,342M100.00,36L406.00,342M102.00,36L408.00,342M104.00,36L410.00,342M106.00,36L412.00,342M108.00,36L414.00,342M110.00,36L416.00,342M112.00,36L418.00,342M114.00,36L420.00,342M116.00,36L422.00,342M118.00,36L424.00,342M120.00,36L426.00,342M122.00,36L428.00,342M124.00,36L430.00,342M126.00,36L432.00,342M128.00,36L434.00,342M130.00,36L436.00,342M132.00,36L438.00,342M134.00,36L440.00,342M136.00,36L442.00,342M138.00,36L444.00,342M140.00,36L446.00,342M142.00,36L448.00,342M144.00,36L450.00,342M146.00,36L452.00,342M148.00,36L454.00,342M150.00,36L456.00,342M152.00,36L458.00,342M154.00,36L460.00,342M156.00,36L462.00,342M158.00,36L464.00,342M160.00,36L466.00,342M162.00,36L468.00,342M164.00,36L470.00,342M166.00,36L472.00,342M168.00,36L474.00,342M170.00,36L476.00,342M172.00,36L478.00,342M174.00,36L480.00,342M176.00,36L482.00,342M178.00,36L484.00,342M180.00,36L486.00,342M182.00,36L488.00,342M184.00,36L490.00,342M186.00,36L492.00,342M188.00,36L494.00,342M190.00,36L496.00,342M192.00,36L498.00,342M194.00,36L500.00,342M196.00,36L502.00,342M198.00,36L504.00,342M200.00,36L506.00,342M202.00,36L508.00,342M204.00,36L510.00,342M206.00,36L512.00,342M208.00,36L514.00,342M210.00,36L516.00,342M212.00,36L518.00,342M214.00,36L520.00,342M216.00,36L522.00,342M218.00,36L524.00,342M220.00,36L526.00,342M222.00,36L528.00,342M224.00,36L530.00,342M226.00,36L532.00,342M228.00,36L534.00,342M230.00,36L536.00,342M232.00,36L538.00,342M234.00,36L540.00,342M236.00,36L542.00,342M238.00,36L544.00,342M240.00,36L546.00,342M242.00,36L548.00,342M244.00,36L550.00,342M246.00,36L552.00,342M248.00,36L554.00,342M250.00,36L556.00,342M252.00,36L558.00,342M254.00,36L560.00,342M256.00,36L562.00,342M258.00,36L564.00,342M260.00,36L566.00,342M262.00,36L568.00,342M264.00,36L570.00,342M266.00,36L572.00,342M268.00,36L574.00,342M270.00,36L576.00,342M272.00,36L578.00,342M274.00,36L580.00,342M276.00,36L582.00,342M278.00,36L584.00,342M280.00,36L586.00,342M282.00,36L588.00,342M284.00,36L590.00,342M286.00,36L592.00,342M288.00,36L594.00,342M290.00,36L596.00,342M292.00,36L598.00,342M294.00,36L600.00,342M296.00,36L602.00,342M298.00,36L604.00,342M300.00,36L606.00,342M302.00,36L608.00,342M304.00,36L610.00,342M306.00,36L612.00,342M308.00,36L614.00,342M310.00,36L616.00,342M312.00,36L618.00,342M314.00,36L620.00,342M316.00,36L622.00,342M318.00,36L624.00,342M320.00,36L626.00,342M322.00,36L628.00,342M324.00,36L630.00,342M326.00,36L632.00,342M328.00,36L634.00,342M330.00,36L636.00,342M332.00,36L638.00,342M334.00,36L640.00,342M336.00,36L642.00,342M338.00,36L644.00,342M340.00,36L646.00,342M342.00,36L648.00,342M344.00,36L650.00,342M346.00,36L652.00,342M348.00,36L654.00,342M350.00,36L656.00,342M352.00,36L658.00,342M354.00,36L660.00,342M356.00,36L662.00,342M358.00,36L664.00,342M360.00,36L666.00,342M362.00,36L668.00,342M364.00,36L670.00,342M366.00,36L672.00,342M368.00,36L674.00,342M370.00,36L676.00,342M372.00,36L678.00,342M374.00,36L680.00,342M376.00,36L682.00,342M378.00,36L684.00,342M380.00,36L686.00,342M382.00,36L688.00,342M384.00,36L690.00,342M386.00,36L692.00,342M388.00,36L694.00,342M390.00,36L696.00,342M392.00,36L698.00,342M394.00,36L700.00,342M396.00,36L702.00,342M398.00,36L704.00,342M400.00,36L706.00,342M402.00,36L708.00,342M404.00,36L710.00,342M406.00,36L712.00,342M408.00,36L714.00,342M410.00,36L716.00,342M412.00,36L718.00,342M414.00,36L720.00,342M416.00,36L722.00,342M418.00,36L724.00,342M420.00,36L726.00,342M422.00,36L728.00,342M424.00,36L730.00,342M426.00,36L732.00,342M428.00,36L734.00,342M430.00,36L736.00,342M432.00,36L738.00,342M434.00,36L740.00,342M436.00,36L742.00,342M438.00,36L744.00,342M440.00,36L746.00,342M442.00,36L748.00,342M444.00,36L750.00,342M446.00,36L752.00,342M448.00,36L754.00,342M450.00,36L756.00,342M452.00,36L758.00,342M454.00,36L760.00,342M456.00,36L762.00,342M458.00,36L764.00,342M460.00,36L766.00,342M462.00,36L768.00,342M464.00,36L770.00,342M466.00,36L772.00,342M468.00,36L774.00,342M470.00,36L776.00,342M472.00,36L778.00,342M474.00,36L780.00,342M476.00,36L782.00,342M478.00,36L784.00,342M480.00,36L786.00,342M482.00,36L788.00,342M484.00,36L790.00,342M486.00,36L792.00,342M488.00,36L794.00,342M490.00,36L796.00,342M492.00,36L798.00,342M494.00,36L800.00,342M496.00,36L802.00,342M498.00,36L804.00,342M500.00,36L806.00,342M502.00,36L808.00,342"/></g></g>
<clipPath id="c-dkgreen"><rect x="241.90" y="82.80" width="1.30" height="11.45"/><rect x="240.40" y="97.05" width="0.60" height="11.45"/><rect x="246.50" y="111.30" width="1.40" height="11.45"/><rect x="211.40" y="146.21" width="12.30" height="5.10"/><rect x="477.40" y="97.05" width="3.10" height="11.45"/><rect x="470.00" y="146.41" width="12.30" height="5.10"/><rect x="165.80" y="218.25" width="1.80" height="11.45"/><rect x="169.00" y="246.75" width="7.40" height="11.45"/><rect x="161.50" y="261.00" width="2.80" height="11.45"/><rect x="163.80" y="275.25" width="5.70" height="11.45"/><rect x="136.00" y="289.50" width="27.20" height="11.45"/><rect x="209.10" y="324.21" width="12.30" height="5.10"/><rect x="389.80" y="218.25" width="5.30" height="11.45"/><rect x="404.60" y="232.50" width="2.50" height="11.45"/><rect x="400.90" y="246.75" width="4.60" height="11.45"/><rect x="390.80" y="261.00" width="2.10" height="11.45"/><rect x="400.80" y="275.25" width="2.00" height="11.45"/><rect x="392.20" y="289.50" width="1.70" height="11.45"/><rect x="438.20" y="323.91" width="12.30" height="5.10"/></clipPath>
<g clip-path="url(#c-dkgreen)"><rect x="40" y="36" width="464" height="306" fill="#009600"/><g stroke="#001800" stroke-width="0.4" fill="none"><path d="M41.00,36L-265.00,342M43.00,36L-263.00,342M45.00,36L-261.00,342M47.00,36L-259.00,342M49.00,36L-257.00,342M51.00,36L-255.00,342M53.00,36L-253.00,342M55.00,36L-251.00,342M57.00,36L-249.00,342M59.00,36L-247.00,342M61.00,36L-245.00,342M63.00,36L-243.00,342M65.00,36L-241.00,342M67.00,36L-239.00,342M69.00,36L-237.00,342M71.00,36L-235.00,342M73.00,36L-233.00,342M75.00,36L-231.00,342M77.00,36L-229.00,342M79.00,36L-227.00,342M81.00,36L-225.00,342M83.00,36L-223.00,342M85.00,36L-221.00,342M87.00,36L-219.00,342M89.00,36L-217.00,342M91.00,36L-215.00,342M93.00,36L-213.00,342M95.00,36L-211.00,342M97.00,36L-209.00,342M99.00,36L-207.00,342M101.00,36L-205.00,342M103.00,36L-203.00,342M105.00,36L-201.00,342M107.00,36L-199.00,342M109.00,36L-197.00,342M111.00,36L-195.00,342M113.00,36L-193.00,342M115.00,36L-191.00,342M117.00,36L-189.00,342M119.00,36L-187.00,342M121.00,36L-185.00,342M123.00,36L-183.00,342M125.00,36L-181.00,342M127.00,36L-179.00,342M129.00,36L-177.00,342M131.00,36L-175.00,342M133.00,36L-173.00,342M135.00,36L-171.00,342M137.00,36L-169.00,342M139.00,36L-167.00,342M141.00,36L-165.00,342M143.00,36L-163.00,342M145.00,36L-161.00,342M147.00,36L-159.00,342M149.00,36L-157.00,342M151.00,36L-155.00,342M153.00,36L-153.00,342M155.00,36L-151.00,342M157.00,36L-149.00,342M159.00,36L-147.00,342M161.00,36L-145.00,342M163.00,36L-143.00,342M165.00,36L-141.00,342M167.00,36L-139.00,342M169.00,36L-137.00,342M171.00,36L-135.00,342M173.00,36L-133.00,342M175.00,36L-131.00,342M177.00,36L-129.00,342M179.00,36L-127.00,342M181.00,36L-125.00,342M183.00,36L-123.00,342M185.00,36L-121.00,342M187.00,36L-119.00,342M189.00,36L-117.00,342M191.00,36L-115.00,342M193.00,36L-113.00,342M195.00,36L-111.00,342M197.00,36L-109.00,342M199.00,36L-107.00,342M201.00,36L-105.00,342M203.00,36L-103.00,342M205.00,36L-101.00,342M207.00,36L-99.00,342M209.00,36L-97.00,342M211.00,36L-95.00,342M213.00,36L-93.00,342M215.00,36L-91.00,342M217.00,36L-89.00,342M219.00,36L-87.00,342M221.00,36L-85.00,342M223.00,36L-83.00,342M225.00,36L-81.00,342M227.00,36L-79.00,342M229.00,36L-77.00,342M231.00,36L-75.00,342M233.00,36L-73.00,342M235.00,36L-71.00,342M237.00,36L-69.00,342M239.00,36L-67.00,342M241.00,36L-65.00,342M243.00,36L-63.00,342M245.00,36L-61.00,342M247.00,36L-59.00,342M249.00,36L-57.00,342M251.00,36L-55.00,342M253.00,36L-53.00,342M255.00,36L-51.00,342M257.00,36L-49.00,342M259.00,36L-47.00,342M261.00,36L-45.00,342M263.00,36L-43.00,342M265.00,36L-41.00,342M267.00,36L-39.00,342M269.00,36L-37.00,342M271.00,36L-35.00,342M273.00,36L-33.00,342M275.00,36L-31.00,342M277.00,36L-29.00,342M279.00,36L-27.00,342M281.00,36L-25.00,342M283.00,36L-23.00,342M285.00,36L-21.00,342M287.00,36L-19.00,342M289.00,36L-17.00,342M291.00,36L-15.00,342M293.00,36L-13.00,342M295.00,36L-11.00,342M297.00,36L-9.00,342M299.00,36L-7.00,342M301.00,36L-5.00,342M303.00,36L-3.00,342M305.00,36L-1.00,342M307.00,36L1.00,342M309.00,36L3.00,342M311.00,36L5.00,342M313.00,36L7.00,342M315.00,36L9.00,342M317.00,36L11.00,342M319.00,36L13.00,342M321.00,36L15.00,342M323.00,36L17.00,342M325.00,36L19.00,342M327.00,36L21.00,342M329.00,36L23.00,342M331.00,36L25.00,342M333.00,36L27.00,342M335.00,36L29.00,342M337.00,36L31.00,342M339.00,36L33.00,342M341.00,36L35.00,342M343.00,36L37.00,342M345.00,36L39.00,342M347.00,36L41.00,342M349.00,36L43.00,342M351.00,36L45.00,342M353.00,36L47.00,342M355.00,36L49.00,342M357.00,36L51.00,342M359.00,36L53.00,342M361.00,36L55.00,342M363.00,36L57.00,342M365.00,36L59.00,342M367.00,36L61.00,342M369.00,36L63.00,342M371.00,36L65.00,342M373.00,36L67.00,342M375.00,36L69.00,342M377.00,36L71.00,342M379.00,36L73.00,342M381.00,36L75.00,342M383.00,36L77.00,342M385.00,36L79.00,342M387.00,36L81.00,342M389.00,36L83.00,342M391.00,36L85.00,342M393.00,36L87.00,342M395.00,36L89.00,342M397.00,36L91.00,342M399.00,36L93.00,342M401.00,36L95.00,342M403.00,36L97.00,342M405.00,36L99.00,342M407.00,36L101.00,342M409.00,36L103.00,342M411.00,36L105.00,342M413.00,36L107.00,342M415.00,36L109.00,342M417.00,36L111.00,342M419.00,36L113.00,342M421.00,36L115.00,342M423.00,36L117.00,342M425.00,36L119.00,342M427.00,36L121.00,342M429.00,36L123.00,342M431.00,36L125.00,342M433.00,36L127.00,342M435.00,36L129.00,342M437.00,36L131.00,342M439.00,36L133.00,342M441.00,36L135.00,342M443.00,36L137.00,342M445.00,36L139.00,342M447.00,36L141.00,342M449.00,36L143.00,342M451.00,36L145.00,342M453.00,36L147.00,342M455.00,36L149.00,342M457.00,36L151.00,342M459.00,36L153.00,342M461.00,36L155.00,342M463.00,36L157.00,342M465.00,36L159.00,342M467.00,36L161.00,342M469.00,36L163.00,342M471.00,36L165.00,342M473.00,36L167.00,342M475.00,36L169.00,342M477.00,36L171.00,342M479.00,36L173.00,342M481.00,36L175.00,342M483.00,36L177.00,342M485.00,36L179.00,342M487.00,36L181.00,342M489.00,36L183.00,342M491.00,36L185.00,342M493.00,36L187.00,342M495.00,36L189.00,342M497.00,36L191.00,342M499.00,36L193.00,342M501.00,36L195.00,342M503.00,36L197.00,342M505.00,36L199.00,342M507.00,36L201.00,342M509.00,36L203.00,342M511.00,36L205.00,342M513.00,36L207.00,342M515.00,36L209.00,342M517.00,36L211.00,342M519.00,36L213.00,342M521.00,36L215.00,342M523.00,36L217.00,342M525.00,36L219.00,342M527.00,36L221.00,342M529.00,36L223.00,342M531.00,36L225.00,342M533.00,36L227.00,342M535.00,36L229.00,342M537.00,36L231.00,342M539.00,36L233.00,342M541.00,36L235.00,342M543.00,36L237.00,342M545.00,36L239.00,342M547.00,36L241.00,342M549.00,36L243.00,342M551.00,36L245.00,342M553.00,36L247.00,342M555.00,36L249.00,342M557.00,36L251.00,342M559.00,36L253.00,342M561.00,36L255.00,342M563.00,36L257.00,342M565.00,36L259.00,342M567.00,36L261.00,342M569.00,36L263.00,342M571.00,36L265.00,342M573.00,36L267.00,342M575.00,36L269.00,342M577.00,36L271.00,342M579.00,36L273.00,342M581.00,36L275.00,342M583.00,36L277.00,342M585.00,36L279.00,342M587.00,36L281.00,342M589.00,36L283.00,342M591.00,36L285.00,342M593.00,36L287.00,342M595.00,36L289.00,342M597.00,36L291.00,342M599.00,36L293.00,342M601.00,36L295.00,342M603.00,36L297.00,342M605.00,36L299.00,342M607.00,36L301.00,342M609.00,36L303.00,342M611.00,36L305.00,342M613.00,36L307.00,342M615.00,36L309.00,342M617.00,36L311.00,342M619.00,36L313.00,342M621.00,36L315.00,342M623.00,36L317.00,342M625.00,36L319.00,342M627.00,36L321.00,342M629.00,36L323.00,342M631.00,36L325.00,342M633.00,36L327.00,342M635.00,36L329.00,342M637.00,36L331.00,342M639.00,36L333.00,342M641.00,36L335.00,342M643.00,36L337.00,342M645.00,36L339.00,342M647.00,36L341.00,342M649.00,36L343.00,342M651.00,36L345.00,342M653.00,36L347.00,342M655.00,36L349.00,342M657.00,36L351.00,342M659.00,36L353.00,342M661.00,36L355.00,342M663.00,36L357.00,342M665.00,36L359.00,342M667.00,36L361.00,342M669.00,36L363.00,342M671.00,36L365.00,342M673.00,36L367.00,342M675.00,36L369.00,342M677.00,36L371.00,342M679.00,36L373.00,342M681.00,36L375.00,342M683.00,36L377.00,342M685.00,36L379.00,342M687.00,36L381.00,342M689.00,36L383.00,342M691.00,36L385.00,342M693.00,36L387.00,342M695.00,36L389.00,342M697.00,36L391.00,342M699.00,36L393.00,342M701.00,36L395.00,342M703.00,36L397.00,342M705.00,36L399.00,342M707.00,36L401.00,342M709.00,36L403.00,342M711.00,36L405.00,342M713.00,36L407.00,342M715.00,36L409.00,342M717.00,36L411.00,342M719.00,36L413.00,342M721.00,36L415.00,342M723.00,36L417.00,342M725.00,36L419.00,342M727.00,36L421.00,342M729.00,36L423.00,342M731.00,36L425.00,342M733.00,36L427.00,342M735.00,36L429.00,342M737.00,36L431.00,342M739.00,36L433.00,342M741.00,36L435.00,342M743.00,36L437.00,342M745.00,36L439.00,342M747.00,36L441.00,342M749.00,36L443.00,342M751.00,36L445.00,342M753.00,36L447.00,342M755.00,36L449.00,342M757.00,36L451.00,342M759.00,36L453.00,342M761.00,36L455.00,342M763.00,36L457.00,342M765.00,36L459.00,342M767.00,36L461.00,342M769.00,36L463.00,342M771.00,36L465.00,342M773.00,36L467.00,342M775.00,36L469.00,342M777.00,36L471.00,342M779.00,36L473.00,342M781.00,36L475.00,342M783.00,36L477.00,342M785.00,36L479.00,342M787.00,36L481.00,342M789.00,36L483.00,342M791.00,36L485.00,342M793.00,36L487.00,342M795.00,36L489.00,342M797.00,36L491.00,342M799.00,36L493.00,342M801.00,36L495.00,342M803.00,36L497.00,342M805.00,36L499.00,342M807.00,36L501.00,342M809.00,36L503.00,342"/><path d="M-266.00,36L40.00,342M-264.00,36L42.00,342M-262.00,36L44.00,342M-260.00,36L46.00,342M-258.00,36L48.00,342M-256.00,36L50.00,342M-254.00,36L52.00,342M-252.00,36L54.00,342M-250.00,36L56.00,342M-248.00,36L58.00,342M-246.00,36L60.00,342M-244.00,36L62.00,342M-242.00,36L64.00,342M-240.00,36L66.00,342M-238.00,36L68.00,342M-236.00,36L70.00,342M-234.00,36L72.00,342M-232.00,36L74.00,342M-230.00,36L76.00,342M-228.00,36L78.00,342M-226.00,36L80.00,342M-224.00,36L82.00,342M-222.00,36L84.00,342M-220.00,36L86.00,342M-218.00,36L88.00,342M-216.00,36L90.00,342M-214.00,36L92.00,342M-212.00,36L94.00,342M-210.00,36L96.00,342M-208.00,36L98.00,342M-206.00,36L100.00,342M-204.00,36L102.00,342M-202.00,36L104.00,342M-200.00,36L106.00,342M-198.00,36L108.00,342M-196.00,36L110.00,342M-194.00,36L112.00,342M-192.00,36L114.00,342M-190.00,36L116.00,342M-188.00,36L118.00,342M-186.00,36L120.00,342M-184.00,36L122.00,342M-182.00,36L124.00,342M-180.00,36L126.00,342M-178.00,36L128.00,342M-176.00,36L130.00,342M-174.00,36L132.00,342M-172.00,36L134.00,342M-170.00,36L136.00,342M-168.00,36L138.00,342M-166.00,36L140.00,342M-164.00,36L142.00,342M-162.00,36L144.00,342M-160.00,36L146.00,342M-158.00,36L148.00,342M-156.00,36L150.00,342M-154.00,36L152.00,342M-152.00,36L154.00,342M-150.00,36L156.00,342M-148.00,36L158.00,342M-146.00,36L160.00,342M-144.00,36L162.00,342M-142.00,36L164.00,342M-140.00,36L166.00,342M-138.00,36L168.00,342M-136.00,36L170.00,342M-134.00,36L172.00,342M-132.00,36L174.00,342M-130.00,36L176.00,342M-128.00,36L178.00,342M-126.00,36L180.00,342M-124.00,36L182.00,342M-122.00,36L184.00,342M-120.00,36L186.00,342M-118.00,36L188.00,342M-116.00,36L190.00,342M-114.00,36L192.00,342M-112.00,36L194.00,342M-110.00,36L196.00,342M-108.00,36L198.00,342M-106.00,36L200.00,342M-104.00,36L202.00,342M-102.00,36L204.00,342M-100.00,36L206.00,342M-98.00,36L208.00,342M-96.00,36L210.00,342M-94.00,36L212.00,342M-92.00,36L214.00,342M-90.00,36L216.00,342M-88.00,36L218.00,342M-86.00,36L220.00,342M-84.00,36L222.00,342M-82.00,36L224.00,342M-80.00,36L226.00,342M-78.00,36L228.00,342M-76.00,36L230.00,342M-74.00,36L232.00,342M-72.00,36L234.00,342M-70.00,36L236.00,342M-68.00,36L238.00,342M-66.00,36L240.00,342M-64.00,36L242.00,342M-62.00,36L244.00,342M-60.00,36L246.00,342M-58.00,36L248.00,342M-56.00,36L250.00,342M-54.00,36L252.00,342M-52.00,36L254.00,342M-50.00,36L256.00,342M-48.00,36L258.00,342M-46.00,36L260.00,342M-44.00,36L262.00,342M-42.00,36L264.00,342M-40.00,36L266.00,342M-38.00,36L268.00,342M-36.00,36L270.00,342M-34.00,36L272.00,342M-32.00,36L274.00,342M-30.00,36L276.00,342M-28.00,36L278.00,342M-26.00,36L280.00,342M-24.00,36L282.00,342M-22.00,36L284.00,342M-20.00,36L286.00,342M-18.00,36L288.00,342M-16.00,36L290.00,342M-14.00,36L292.00,342M-12.00,36L294.00,342M-10.00,36L296.00,342M-8.00,36L298.00,342M-6.00,36L300.00,342M-4.00,36L302.00,342M-2.00,36L304.00,342M0.00,36L306.00,342M2.00,36L308.00,342M4.00,36L310.00,342M6.00,36L312.00,342M8.00,36L314.00,342M10.00,36L316.00,342M12.00,36L318.00,342M14.00,36L320.00,342M16.00,36L322.00,342M18.00,36L324.00,342M20.00,36L326.00,342M22.00,36L328.00,342M24.00,36L330.00,342M26.00,36L332.00,342M28.00,36L334.00,342M30.00,36L336.00,342M32.00,36L338.00,342M34.00,36L340.00,342M36.00,36L342.00,342M38.00,36L344.00,342M40.00,36L346.00,342M42.00,36L348.00,342M44.00,36L350.00,342M46.00,36L352.00,342M48.00,36L354.00,342M50.00,36L356.00,342M52.00,36L358.00,342M54.00,36L360.00,342M56.00,36L362.00,342M58.00,36L364.00,342M60.00,36L366.00,342M62.00,36L368.00,342M64.00,36L370.00,342M66.00,36L372.00,342M68.00,36L374.00,342M70.00,36L376.00,342M72.00,36L378.00,342M74.00,36L380.00,342M76.00,36L382.00,342M78.00,36L384.00,342M80.00,36L386.00,342M82.00,36L388.00,342M84.00,36L390.00,342M86.00,36L392.00,342M88.00,36L394.00,342M90.00,36L396.00,342M92.00,36L398.00,342M94.00,36L400.00,342M96.00,36L402.00,342M98.00,36L404.00,342M100.00,36L406.00,342M102.00,36L408.00,342M104.00,36L410.00,342M106.00,36L412.00,342M108.00,36L414.00,342M110.00,36L416.00,342M112.00,36L418.00,342M114.00,36L420.00,342M116.00,36L422.00,342M118.00,36L424.00,342M120.00,36L426.00,342M122.00,36L428.00,342M124.00,36L430.00,342M126.00,36L432.00,342M128.00,36L434.00,342M130.00,36L436.00,342M132.00,36L438.00,342M134.00,36L440.00,342M136.00,36L442.00,342M138.00,36L444.00,342M140.00,36L446.00,342M142.00,36L448.00,342M144.00,36L450.00,342M146.00,36L452.00,342M148.00,36L454.00,342M150.00,36L456.00,342M152.00,36L458.00,342M154.00,36L460.00,342M156.00,36L462.00,342M158.00,36L464.00,342M160.00,36L466.00,342M162.00,36L468.00,342M164.00,36L470.00,342M166.00,36L472.00,342M168.00,36L474.00,342M170.00,36L476.00,342M172.00,36L478.00,342M174.00,36L480.00,342M176.00,36L482.00,342M178.00,36L484.00,342M180.00,36L486.00,342M182.00,36L488.00,342M184.00,36L490.00,342M186.00,36L492.00,342M188.00,36L494.00,342M190.00,36L496.00,342M192.00,36L498.00,342M194.00,36L500.00,342M196.00,36L502.00,342M198.00,36L504.00,342M200.00,36L506.00,342M202.00,36L508.00,342M204.00,36L510.00,342M206.00,36L512.00,342M208.00,36L514.00,342M210.00,36L516.00,342M212.00,36L518.00,342M214.00,36L520.00,342M216.00,36L522.00,342M218.00,36L524.00,342M220.00,36L526.00,342M222.00,36L528.00,342M224.00,36L530.00,342M226.00,36L532.00,342M228.00,36L534.00,342M230.00,36L536.00,342M232.00,36L538.00,342M234.00,36L540.00,342M236.00,36L542.00,342M238.00,36L544.00,342M240.00,36L546.00,342M242.00,36L548.00,342M244.00,36L550.00,342M246.00,36L552.00,342M248.00,36L554.00,342M250.00,36L556.00,342M252.00,36L558.00,342M254.00,36L560.00,342M256.00,36L562.00,342M258.00,36L564.00,342M260.00,36L566.00,342M262.00,36L568.00,342M264.00,36L570.00,342M266.00,36L572.00,342M268.00,36L574.00,342M270.00,36L576.00,342M272.00,36L578.00,342M274.00,36L580.00,342M276.00,36L582.00,342M278.00,36L584.00,342M280.00,36L586.00,342M282.00,36L588.00,342M284.00,36L590.00,342M286.00,36L592.00,342M288.00,36L594.00,342M290.00,36L596.00,342M292.00,36L598.00,342M294.00,36L600.00,342M296.00,36L602.00,342M298.00,36L604.00,342M300.00,36L606.00,342M302.00,36L608.00,342M304.00,36L610.00,342M306.00,36L612.00,342M308.00,36L614.00,342M310.00,36L616.00,342M312.00,36L618.00,342M314.00,36L620.00,342M316.00,36L622.00,342M318.00,36L624.00,342M320.00,36L626.00,342M322.00,36L628.00,342M324.00,36L630.00,342M326.00,36L632.00,342M328.00,36L634.00,342M330.00,36L636.00,342M332.00,36L638.00,342M334.00,36L640.00,342M336.00,36L642.00,342M338.00,36L644.00,342M340.00,36L646.00,342M342.00,36L648.00,342M344.00,36L650.00,342M346.00,36L652.00,342M348.00,36L654.00,342M350.00,36L656.00,342M352.00,36L658.00,342M354.00,36L660.00,342M356.00,36L662.00,342M358.00,36L664.00,342M360.00,36L666.00,342M362.00,36L668.00,342M364.00,36L670.00,342M366.00,36L672.00,342M368.00,36L674.00,342M370.00,36L676.00,342M372.00,36L678.00,342M374.00,36L680.00,342M376.00,36L682.00,342M378.00,36L684.00,342M380.00,36L686.00,342M382.00,36L688.00,342M384.00,36L690.00,342M386.00,36L692.00,342M388.00,36L694.00,342M390.00,36L696.00,342M392.00,36L698.00,342M394.00,36L700.00,342M396.00,36L702.00,342M398.00,36L704.00,342M400.00,36L706.00,342M402.00,36L708.00,342M404.00,36L710.00,342M406.00,36L712.00,342M408.00,36L714.00,342M410.00,36L716.00,342M412.00,36L718.00,342M414.00,36L720.00,342M416.00,36L722.00,342M418.00,36L724.00,342M420.00,36L726.00,342M422.00,36L728.00,342M424.00,36L730.00,342M426.00,36L732.00,342M428.00,36L734.00,342M430.00,36L736.00,342M432.00,36L738.00,342M434.00,36L740.00,342M436.00,36L742.00,342M438.00,36L744.00,342M440.00,36L746.00,342M442.00,36L748.00,342M444.00,36L750.00,342M446.00,36L752.00,342M448.00,36L754.00,342M450.00,36L756.00,342M452.00,36L758.00,342M454.00,36L760.00,342M456.00,36L762.00,342M458.00,36L764.00,342M460.00,36L766.00,342M462.00,36L768.00,342M464.00,36L770.00,342M466.00,36L772.00,342M468.00,36L774.00,342M470.00,36L776.00,342M472.00,36L778.00,342M474.00,36L780.00,342M476.00,36L782.00,342M478.00,36L784.00,342M480.00,36L786.00,342M482.00,36L788.00,342M484.00,36L790.00,342M486.00,36L792.00,342M488.00,36L794.00,342M490.00,36L796.00,342M492.00,36L798.00,342M494.00,36L800.00,342M496.00,36L802.00,342M498.00,36L804.00,342M500.00,36L806.00,342M502.00,36L808.00,342"/></g></g>
<clipPath id="c-olive"><rect x="243.20" y="82.80" width="2.80" height="11.45"/><rect x="44.40" y="155.29" width="12.30" height="5.10"/><rect x="488.50" y="40.05" width="1.10" height="11.45"/><rect x="474.30" y="82.80" width="1.30" height="11.45"/><rect x="481.70" y="111.30" width="1.50" height="11.45"/><rect x="290.30" y="155.49" width="12.30" height="5.10"/><rect x="167.60" y="218.25" width="2.20" height="11.45"/><rect x="178.30" y="232.50" width="14.90" height="11.45"/><rect x="176.40" y="246.75" width="13.80" height="11.45"/><rect x="164.30" y="261.00" width="2.60" height="11.45"/><rect x="163.20" y="289.50" width="1.00" height="11.45"/><rect x="43.60" y="333.29" width="12.30" height="5.10"/><rect x="395.10" y="218.25" width="10.70" height="11.45"/><rect x="407.10" y="232.50" width="1.50" height="11.45"/><rect x="405.50" y="246.75" width="6.50" height="11.45"/><rect x="392.90" y="261.00" width="3.70" height="11.45"/><rect x="402.80" y="275.25" width="2.00" height="11.45"/><rect x="393.90" y="289.50" width="2.90" height="11.45"/><rect x="290.50" y="332.99" width="12.30" height="5.10"/></clipPath>
<g clip-path="url(#c-olive)"><rect x="40" y="36" width="464" height="306" fill="#848400"/><g stroke="#202000" stroke-width="0.5" fill="none"><path d="M40,36.50H504M40,38.50H504M40,40.50H504M40,42.50H504M40,44.50H504M40,46.50H504M40,48.50H504M40,50.50H504M40,52.50H504M40,54.50H504M40,56.50H504M40,58.50H504M40,60.50H504M40,62.50H504M40,64.50H504M40,66.50H504M40,68.50H504M40,70.50H504M40,72.50H504M40,74.50H504M40,76.50H504M40,78.50H504M40,80.50H504M40,82.50H504M40,84.50H504M40,86.50H504M40,88.50H504M40,90.50H504M40,92.50H504M40,94.50H504M40,96.50H504M40,98.50H504M40,100.50H504M40,102.50H504M40,104.50H504M40,106.50H504M40,108.50H504M40,110.50H504M40,112.50H504M40,114.50H504M40,116.50H504M40,118.50H504M40,120.50H504M40,122.50H504M40,124.50H504M40,126.50H504M40,128.50H504M40,130.50H504M40,132.50H504M40,134.50H504M40,136.50H504M40,138.50H504M40,140.50H504M40,142.50H504M40,144.50H504M40,146.50H504M40,148.50H504M40,150.50H504M40,152.50H504M40,154.50H504M40,156.50H504M40,158.50H504M40,160.50H504M40,162.50H504M40,164.50H504M40,166.50H504M40,168.50H504M40,170.50H504M40,172.50H504M40,174.50H504M40,176.50H504M40,178.50H504M40,180.50H504M40,182.50H504M40,184.50H504M40,186.50H504M40,188.50H504M40,190.50H504M40,192.50H504M40,194.50H504M40,196.50H504M40,198.50H504M40,200.50H504M40,202.50H504M40,204.50H504M40,206.50H504M40,208.50H504M40,210.50H504M40,212.50H504M40,214.50H504M40,216.50H504M40,218.50H504M40,220.50H504M40,222.50H504M40,224.50H504M40,226.50H504M40,228.50H504M40,230.50H504M40,232.50H504M40,234.50H504M40,236.50H504M40,238.50H504M40,240.50H504M40,242.50H504M40,244.50H504M40,246.50H504M40,248.50H504M40,250.50H504M40,252.50H504M40,254.50H504M40,256.50H504M40,258.50H504M40,260.50H504M40,262.50H504M40,264.50H504M40,266.50H504M40,268.50H504M40,270.50H504M40,272.50H504M40,274.50H504M40,276.50H504M40,278.50H504M40,280.50H504M40,282.50H504M40,284.50H504M40,286.50H504M40,288.50H504M40,290.50H504M40,292.50H504M40,294.50H504M40,296.50H504M40,298.50H504M40,300.50H504M40,302.50H504M40,304.50H504M40,306.50H504M40,308.50H504M40,310.50H504M40,312.50H504M40,314.50H504M40,316.50H504M40,318.50H504M40,320.50H504M40,322.50H504M40,324.50H504M40,326.50H504M40,328.50H504M40,330.50H504M40,332.50H504M40,334.50H504M40,336.50H504M40,338.50H504M40,340.50H504"/></g></g>
<g fill="#bcac36"><rect x="249.10" y="40.05" width="5.50" height="11.45"/><rect x="248.10" y="54.30" width="6.50" height="11.45"/><rect x="249.30" y="68.55" width="5.30" height="11.45"/><rect x="246.00" y="82.80" width="8.60" height="11.45"/><rect x="241.00" y="97.05" width="13.60" height="11.45"/><rect x="247.90" y="111.30" width="6.70" height="11.45"/><rect x="122.60" y="155.29" width="12.30" height="5.10"/><rect x="489.60" y="40.05" width="5.10" height="11.45"/><rect x="475.60" y="82.80" width="24.40" height="11.45"/><rect x="480.50" y="97.05" width="19.50" height="11.45"/><rect x="483.20" y="111.30" width="16.80" height="11.45"/><rect x="369.10" y="332.99" width="5.00" height="5.10"/></g>
<g fill="#b0a234"><rect x="383.20" y="155.49" width="4.60" height="5.10"/><rect x="169.80" y="218.25" width="24.80" height="11.45"/><rect x="239.90" y="218.25" width="14.70" height="11.45"/><rect x="223.80" y="232.50" width="30.80" height="11.45"/><rect x="201.90" y="246.75" width="49.60" height="11.45"/><rect x="197.30" y="261.00" width="51.60" height="11.45"/><rect x="169.50" y="275.25" width="37.40" height="11.45"/><rect x="252.60" y="275.25" width="2.00" height="11.45"/><rect x="164.20" y="289.50" width="11.50" height="11.45"/><rect x="221.40" y="289.50" width="33.20" height="11.45"/><rect x="129.20" y="333.29" width="6.60" height="5.10"/><rect x="405.80" y="218.25" width="44.10" height="11.45"/><rect x="497.20" y="218.25" width="2.80" height="11.45"/><rect x="408.60" y="232.50" width="10.10" height="11.45"/><rect x="464.40" y="232.50" width="35.60" height="11.45"/><rect x="412.00" y="246.75" width="4.60" height="11.45"/><rect x="462.00" y="246.75" width="38.00" height="11.45"/><rect x="396.60" y="261.00" width="51.10" height="11.45"/><rect x="494.90" y="261.00" width="5.10" height="11.45"/><rect x="429.10" y="275.25" width="52.80" height="11.45"/><rect x="417.10" y="289.50" width="51.90" height="11.45"/><rect x="374.10" y="332.99" width="3.00" height="5.10"/></g>
<g fill="#cfc038"><rect x="494.70" y="40.05" width="5.30" height="11.45"/><rect x="486.10" y="54.30" width="13.90" height="11.45"/><rect x="488.80" y="68.55" width="11.20" height="11.45"/><rect x="378.20" y="155.49" width="5.00" height="5.10"/><rect x="387.80" y="155.49" width="2.70" height="5.10"/><rect x="194.60" y="218.25" width="45.30" height="11.45"/><rect x="193.20" y="232.50" width="30.60" height="11.45"/><rect x="190.20" y="246.75" width="11.70" height="11.45"/><rect x="251.50" y="246.75" width="3.10" height="11.45"/><rect x="166.90" y="261.00" width="30.40" height="11.45"/><rect x="248.90" y="261.00" width="5.70" height="11.45"/><rect x="206.90" y="275.25" width="45.70" height="11.45"/><rect x="175.70" y="289.50" width="45.70" height="11.45"/><rect x="135.80" y="333.29" width="5.70" height="5.10"/><rect x="449.90" y="218.25" width="47.30" height="11.45"/><rect x="418.70" y="232.50" width="45.70" height="11.45"/><rect x="416.60" y="246.75" width="45.40" height="11.45"/><rect x="447.70" y="261.00" width="47.20" height="11.45"/><rect x="404.80" y="275.25" width="24.30" height="11.45"/><rect x="481.90" y="275.25" width="18.10" height="11.45"/><rect x="396.80" y="289.50" width="20.30" height="11.45"/><rect x="469.00" y="289.50" width="31.00" height="11.45"/><rect x="377.10" y="332.99" width="4.30" height="5.10"/></g>
<text x="270.3" y="13.1" font-size="10.7" text-anchor="middle" fill="#000">Relative abundance (%)</text>
<text x="270.3" y="191.5" font-size="10.7" text-anchor="middle" fill="#000">Relative abundance (%)</text>
</svg>
</body></html>
